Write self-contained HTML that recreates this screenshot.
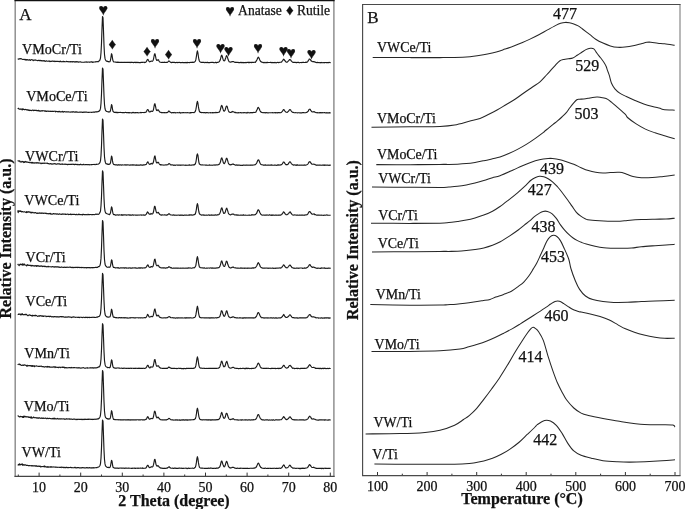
<!DOCTYPE html>
<html><head><meta charset="utf-8"><style>
html,body{margin:0;padding:0;background:#fff;}
svg{display:block;}
text{font-family:"Liberation Serif","Times New Roman",serif;fill:#111;stroke:#111;stroke-width:0.25px;}
.xrd{fill:none;stroke:#1a1a1a;stroke-width:1.15;stroke-linejoin:round;}
.tpr{fill:none;stroke:#262626;stroke-width:1.05;}
.lab{font-size:14.1px;}
.labb{font-size:13.9px;}
.num{font-size:16px;}
.mkh{font-size:16px;}
.mkd{font-size:15px;}
.leg{font-size:13.6px;}
.pl{font-size:17px;}
.tl{font-size:14px;}
.tlb{font-size:14px;}
.xt{font-size:16px;font-weight:bold;}
.yt{font-size:16px;font-weight:bold;}
.tk{stroke:#333;stroke-width:1;}
.fa{stroke:#888;stroke-width:1.4;}
.fb{stroke:#444;stroke-width:1.2;}
.ft{stroke:#111;stroke-width:1.6;}
.fbx{fill:none;stroke:#4a4a4a;stroke-width:1.15;}
.fbr{stroke:#9a9a9a;stroke-width:1.4;}
</style></head><body>
<svg width="685" height="509" viewBox="0 0 685 509">
<rect width="685" height="509" fill="#fff"/>
<path d="M17.7,59.1 L18.2,59.0 L18.7,59.1 L19.2,58.7 L19.7,59.0 L20.2,58.9 L20.7,58.6 L21.2,58.7 L21.7,58.9 L22.2,59.3 L22.7,59.5 L23.2,59.5 L23.7,59.4 L24.2,59.3 L24.7,59.7 L25.2,59.8 L25.7,59.4 L26.2,60.2 L26.7,59.6 L27.2,59.5 L27.7,60.0 L28.2,60.1 L28.7,60.0 L29.2,59.6 L29.7,59.9 L30.2,60.5 L30.7,60.0 L31.2,59.6 L31.7,59.7 L32.2,59.8 L32.7,60.1 L33.2,60.7 L33.7,60.1 L34.1,60.2 L34.6,60.2 L35.1,59.8 L35.6,60.2 L36.1,60.2 L36.6,60.2 L37.1,60.5 L37.6,60.6 L38.1,60.6 L38.6,60.3 L39.1,60.4 L39.6,60.7 L40.1,60.3 L40.6,60.6 L41.1,61.0 L41.6,60.5 L42.1,60.7 L42.6,61.0 L43.1,60.6 L43.6,60.9 L44.1,60.9 L44.6,60.7 L45.1,61.4 L45.6,61.2 L46.1,61.0 L46.6,60.9 L47.1,61.1 L47.6,61.2 L48.1,61.2 L48.6,61.1 L49.1,60.9 L49.6,61.4 L50.1,61.6 L50.6,61.2 L51.1,61.2 L51.6,61.4 L52.1,61.0 L52.6,61.0 L53.1,61.3 L53.6,61.3 L54.1,61.1 L54.6,61.4 L55.1,61.6 L55.6,61.3 L56.1,61.5 L56.6,61.3 L57.1,61.5 L57.6,61.4 L58.1,61.3 L58.6,61.5 L59.1,61.6 L59.6,61.7 L60.1,61.1 L60.6,61.3 L61.1,61.8 L61.6,61.7 L62.1,61.4 L62.6,61.7 L63.1,61.6 L63.6,61.4 L64.1,61.6 L64.6,61.6 L65.1,61.7 L65.6,61.7 L66.1,61.6 L66.6,61.4 L67.1,61.5 L67.6,61.7 L68.1,61.5 L68.6,61.7 L69.1,62.0 L69.6,61.8 L70.1,61.6 L70.6,61.9 L71.1,61.6 L71.6,61.8 L72.1,61.8 L72.6,62.0 L73.1,61.5 L73.6,61.8 L74.1,61.7 L74.6,61.9 L75.1,62.1 L75.6,61.7 L76.1,62.0 L76.6,61.6 L77.1,61.9 L77.6,61.7 L78.1,62.0 L78.6,62.2 L79.1,61.8 L79.6,62.0 L80.1,62.0 L80.6,61.8 L81.1,62.1 L81.6,62.2 L82.1,62.2 L82.6,62.2 L83.1,62.3 L83.6,62.2 L84.1,62.2 L84.6,62.1 L85.1,62.2 L85.6,62.0 L86.1,61.9 L86.6,62.1 L87.1,62.0 L87.6,62.2 L88.1,62.0 L88.6,62.0 L89.1,62.1 L89.6,62.3 L90.1,62.1 L90.6,62.0 L91.1,61.8 L91.6,62.1 L92.1,61.8 L92.6,62.4 L93.1,62.1 L93.6,62.1 L94.1,62.0 L94.6,62.0 L95.1,61.9 L95.6,61.7 L96.1,61.9 L96.5,61.6 L97.0,61.7 L97.5,61.6 L98.0,61.8 L98.5,61.3 L99.0,61.0 L99.5,60.8 L100.0,59.9 L100.5,58.0 L101.0,52.7 L101.5,43.1 L102.0,28.5 L102.5,16.5 L103.0,17.8 L103.5,31.0 L104.0,45.3 L104.5,54.5 L105.0,58.4 L105.5,60.0 L106.0,60.7 L106.5,61.1 L107.0,61.4 L107.5,61.2 L108.0,61.7 L108.5,61.6 L109.0,61.9 L109.5,61.8 L110.0,61.6 L110.5,60.1 L111.0,57.1 L111.5,53.7 L112.0,54.8 L112.5,58.3 L113.0,60.8 L113.5,61.7 L114.0,62.0 L114.5,62.0 L115.0,62.0 L115.5,62.1 L116.0,62.0 L116.5,62.3 L117.0,62.3 L117.5,62.5 L118.0,62.0 L118.5,62.4 L119.0,62.3 L119.5,62.3 L120.0,62.5 L120.5,62.4 L121.0,62.3 L121.5,62.4 L122.0,62.4 L122.5,62.4 L123.0,62.5 L123.5,62.4 L124.0,62.3 L124.5,62.3 L125.0,62.3 L125.5,62.4 L126.0,62.5 L126.5,62.3 L127.0,62.4 L127.5,62.3 L128.0,62.4 L128.5,62.4 L129.0,62.4 L129.5,62.3 L130.0,62.6 L130.5,62.4 L131.0,62.4 L131.5,62.2 L132.0,62.5 L132.5,62.4 L133.0,62.5 L133.5,62.7 L134.0,62.3 L134.5,62.4 L135.0,62.3 L135.5,62.6 L136.0,62.4 L136.5,62.4 L137.0,62.6 L137.5,62.4 L138.0,62.5 L138.5,62.4 L139.0,62.7 L139.5,62.6 L140.0,62.5 L140.5,62.6 L141.0,62.4 L141.5,62.3 L142.0,62.4 L142.5,62.4 L143.0,62.2 L143.5,62.3 L144.0,62.4 L144.5,62.6 L145.0,62.3 L145.5,62.3 L146.0,62.0 L146.5,61.3 L147.0,60.2 L147.5,59.5 L148.0,59.4 L148.5,60.5 L149.0,61.3 L149.5,61.8 L150.0,61.6 L150.5,61.5 L151.0,61.1 L151.5,61.1 L152.0,61.2 L152.5,61.3 L153.0,60.5 L153.5,59.2 L154.0,56.5 L154.5,54.1 L155.0,53.8 L155.5,56.0 L156.0,58.7 L156.5,60.0 L157.0,60.5 L157.5,60.1 L158.0,59.7 L158.5,59.8 L158.9,60.8 L159.4,61.7 L159.9,62.0 L160.4,62.2 L160.9,62.2 L161.4,62.4 L161.9,62.5 L162.4,62.3 L162.9,62.3 L163.4,62.5 L163.9,62.4 L164.4,62.4 L164.9,62.1 L165.4,62.5 L165.9,62.5 L166.4,62.4 L166.9,62.3 L167.4,62.3 L167.9,61.9 L168.4,61.4 L168.9,60.9 L169.4,61.2 L169.9,61.7 L170.4,62.1 L170.9,62.5 L171.4,62.6 L171.9,62.4 L172.4,62.5 L172.9,62.2 L173.4,62.4 L173.9,62.4 L174.4,62.3 L174.9,62.6 L175.4,62.6 L175.9,62.6 L176.4,62.5 L176.9,62.3 L177.4,62.6 L177.9,62.6 L178.4,62.5 L178.9,62.4 L179.4,62.5 L179.9,62.4 L180.4,62.7 L180.9,62.6 L181.4,62.6 L181.9,62.5 L182.4,62.4 L182.9,62.7 L183.4,62.5 L183.9,62.6 L184.4,62.5 L184.9,62.6 L185.4,62.7 L185.9,62.4 L186.4,62.5 L186.9,62.8 L187.4,62.4 L187.9,62.6 L188.4,62.5 L188.9,62.5 L189.4,62.7 L189.9,62.4 L190.4,62.5 L190.9,62.3 L191.4,62.4 L191.9,62.4 L192.4,62.4 L192.9,62.1 L193.4,62.4 L193.9,62.3 L194.4,62.2 L194.9,61.7 L195.4,61.0 L195.9,59.4 L196.4,56.4 L196.9,53.0 L197.4,50.8 L197.9,52.9 L198.4,56.5 L198.9,59.5 L199.4,61.0 L199.9,61.8 L200.4,62.1 L200.9,62.2 L201.4,62.4 L201.9,62.4 L202.4,62.3 L202.9,62.4 L203.4,62.4 L203.9,62.3 L204.4,62.6 L204.9,62.7 L205.4,62.5 L205.9,62.3 L206.4,62.5 L206.9,62.7 L207.4,62.3 L207.9,62.4 L208.4,62.7 L208.9,62.6 L209.4,62.5 L209.9,62.6 L210.4,62.5 L210.9,62.4 L211.4,62.5 L211.9,62.3 L212.4,62.5 L212.9,62.3 L213.4,62.6 L213.9,62.6 L214.4,62.7 L214.9,62.6 L215.4,62.4 L215.9,62.3 L216.4,62.8 L216.9,62.4 L217.4,62.5 L217.9,62.2 L218.4,62.2 L218.9,61.9 L219.4,61.3 L219.9,60.7 L220.4,59.3 L220.9,57.3 L221.3,55.6 L221.8,55.2 L222.3,56.5 L222.8,58.3 L223.3,60.0 L223.8,60.8 L224.3,60.9 L224.8,60.5 L225.3,59.0 L225.8,57.7 L226.3,55.9 L226.8,55.6 L227.3,56.9 L227.8,58.5 L228.3,60.1 L228.8,61.1 L229.3,61.8 L229.8,62.0 L230.3,62.2 L230.8,62.0 L231.3,61.8 L231.8,61.8 L232.3,61.6 L232.8,61.6 L233.3,61.5 L233.8,61.8 L234.3,62.0 L234.8,62.4 L235.3,62.2 L235.8,62.4 L236.3,62.3 L236.8,62.4 L237.3,62.5 L237.8,62.3 L238.3,62.4 L238.8,62.7 L239.3,62.5 L239.8,62.6 L240.3,62.6 L240.8,62.3 L241.3,62.7 L241.8,62.4 L242.3,62.7 L242.8,62.4 L243.3,62.6 L243.8,62.8 L244.3,62.5 L244.8,62.5 L245.3,62.7 L245.8,62.4 L246.3,62.7 L246.8,62.4 L247.3,62.5 L247.8,62.3 L248.3,62.6 L248.8,62.4 L249.3,62.6 L249.8,62.4 L250.3,62.5 L250.8,62.4 L251.3,62.6 L251.8,62.4 L252.3,62.4 L252.8,62.3 L253.3,62.5 L253.8,62.4 L254.3,62.3 L254.8,62.2 L255.3,62.4 L255.8,61.7 L256.3,60.9 L256.8,60.1 L257.3,59.1 L257.8,57.8 L258.3,57.2 L258.8,57.7 L259.3,58.6 L259.8,60.0 L260.3,60.9 L260.8,61.6 L261.3,61.8 L261.8,62.2 L262.3,62.2 L262.8,62.4 L263.3,62.6 L263.8,62.6 L264.3,62.4 L264.8,62.7 L265.3,62.7 L265.8,62.4 L266.3,62.6 L266.8,62.7 L267.3,62.3 L267.8,62.6 L268.3,62.5 L268.8,62.5 L269.3,62.5 L269.8,62.5 L270.3,62.4 L270.8,62.4 L271.3,62.7 L271.8,62.4 L272.3,62.6 L272.8,62.6 L273.3,62.5 L273.8,62.6 L274.3,62.7 L274.8,62.4 L275.3,62.6 L275.8,62.8 L276.3,62.9 L276.8,62.5 L277.3,62.5 L277.8,62.3 L278.3,62.6 L278.8,62.6 L279.3,62.5 L279.8,62.3 L280.3,62.2 L280.8,62.3 L281.3,62.2 L281.8,61.8 L282.3,61.0 L282.8,60.4 L283.3,59.6 L283.7,59.2 L284.2,59.6 L284.7,60.5 L285.2,61.0 L285.7,61.7 L286.2,62.1 L286.7,62.2 L287.2,62.1 L287.7,61.7 L288.2,61.2 L288.7,60.7 L289.2,60.0 L289.7,59.5 L290.2,59.7 L290.7,59.9 L291.2,60.9 L291.7,61.4 L292.2,61.8 L292.7,62.3 L293.2,62.4 L293.7,62.4 L294.2,62.4 L294.7,62.4 L295.2,62.5 L295.7,62.4 L296.2,62.6 L296.7,62.6 L297.2,62.4 L297.7,62.5 L298.2,62.4 L298.7,62.4 L299.2,62.7 L299.7,62.8 L300.2,62.5 L300.7,62.5 L301.2,62.5 L301.7,62.6 L302.2,62.4 L302.7,62.5 L303.2,62.4 L303.7,62.4 L304.2,62.5 L304.7,62.5 L305.2,62.5 L305.7,62.1 L306.2,62.5 L306.7,62.1 L307.2,62.1 L307.7,61.6 L308.2,60.7 L308.7,60.1 L309.2,59.1 L309.7,59.0 L310.2,59.2 L310.7,60.1 L311.2,60.9 L311.7,61.1 L312.2,61.5 L312.7,61.7 L313.2,61.5 L313.7,61.8 L314.2,61.6 L314.7,62.0 L315.2,62.3 L315.7,62.1 L316.2,62.5 L316.7,62.6 L317.2,62.6 L317.7,62.4 L318.2,62.5 L318.7,62.6 L319.2,62.7 L319.7,62.6 L320.2,62.5 L320.7,62.8 L321.2,62.4 L321.7,62.7 L322.2,62.6 L322.7,62.7 L323.2,62.7 L323.7,62.5 L324.2,62.6 L324.7,62.8 L325.2,62.5 L325.7,62.5 L326.2,62.6 L326.7,62.5 L327.2,62.7 L327.7,62.5 L328.2,62.6 L328.7,62.6 L329.2,62.4 L329.7,62.5 L330.2,62.6 L330.7,62.5" class="xrd"/>
<text x="22.1" y="54.1" class="lab">VMoCr/Ti</text>
<path d="M17.7,108.8 L18.2,108.3 L18.7,108.4 L19.2,109.2 L19.7,109.2 L20.2,109.3 L20.7,108.9 L21.2,109.2 L21.7,109.0 L22.2,110.0 L22.7,108.8 L23.2,109.5 L23.7,109.2 L24.2,109.6 L24.7,109.7 L25.2,109.5 L25.7,109.4 L26.2,109.8 L26.7,109.8 L27.2,109.6 L27.7,110.1 L28.2,110.4 L28.7,109.8 L29.2,110.2 L29.7,110.6 L30.2,110.3 L30.7,110.3 L31.2,110.5 L31.7,110.6 L32.2,110.2 L32.7,110.0 L33.2,110.4 L33.7,110.6 L34.1,110.3 L34.6,110.2 L35.1,110.5 L35.6,110.3 L36.1,110.2 L36.6,110.6 L37.1,110.8 L37.6,110.5 L38.1,110.6 L38.6,110.4 L39.1,111.1 L39.6,110.9 L40.1,111.0 L40.6,111.2 L41.1,110.8 L41.6,110.7 L42.1,111.1 L42.6,110.6 L43.1,110.7 L43.6,110.8 L44.1,110.9 L44.6,110.8 L45.1,111.4 L45.6,110.9 L46.1,111.0 L46.6,111.5 L47.1,111.1 L47.6,111.2 L48.1,111.0 L48.6,111.3 L49.1,111.3 L49.6,111.2 L50.1,111.5 L50.6,111.2 L51.1,111.4 L51.6,111.3 L52.1,111.5 L52.6,111.2 L53.1,111.3 L53.6,111.5 L54.1,111.3 L54.6,111.2 L55.1,111.1 L55.6,111.8 L56.1,111.4 L56.6,111.5 L57.1,111.6 L57.6,111.8 L58.1,111.4 L58.6,111.9 L59.1,111.5 L59.6,111.4 L60.1,112.0 L60.6,111.8 L61.1,112.0 L61.6,111.7 L62.1,111.5 L62.6,111.4 L63.1,112.1 L63.6,111.9 L64.1,111.7 L64.6,111.5 L65.1,111.8 L65.6,112.0 L66.1,111.8 L66.6,111.9 L67.1,111.9 L67.6,112.0 L68.1,111.8 L68.6,111.9 L69.1,112.0 L69.6,112.0 L70.1,112.2 L70.6,112.1 L71.1,111.8 L71.6,112.0 L72.1,112.2 L72.6,111.8 L73.1,111.9 L73.6,111.7 L74.1,112.0 L74.6,112.1 L75.1,112.3 L75.6,111.9 L76.1,111.7 L76.6,112.2 L77.1,112.2 L77.6,112.0 L78.1,112.3 L78.6,112.2 L79.1,112.2 L79.6,112.1 L80.1,112.0 L80.6,112.2 L81.1,112.0 L81.6,112.2 L82.1,112.1 L82.6,112.5 L83.1,112.4 L83.6,112.1 L84.1,112.3 L84.6,112.1 L85.1,112.1 L85.6,112.0 L86.1,112.1 L86.6,112.1 L87.1,112.2 L87.6,112.3 L88.1,112.3 L88.6,112.3 L89.1,112.4 L89.6,112.3 L90.1,112.2 L90.6,112.2 L91.1,112.3 L91.6,112.5 L92.1,112.2 L92.6,112.2 L93.1,112.0 L93.6,112.1 L94.1,112.3 L94.6,112.2 L95.1,111.8 L95.6,112.0 L96.1,111.8 L96.5,111.7 L97.0,112.0 L97.5,111.8 L98.0,111.6 L98.5,111.4 L99.0,111.2 L99.5,110.8 L100.0,110.1 L100.5,108.4 L101.0,103.5 L101.5,94.0 L102.0,79.8 L102.5,68.1 L103.0,69.2 L103.5,82.2 L104.0,95.8 L104.5,104.5 L105.0,108.7 L105.5,110.4 L106.0,111.0 L106.5,111.4 L107.0,111.5 L107.5,111.7 L108.0,111.8 L108.5,112.1 L109.0,111.8 L109.5,112.0 L110.0,111.7 L110.5,110.5 L111.0,107.8 L111.5,104.6 L112.0,105.6 L112.5,109.1 L113.0,111.3 L113.5,111.8 L114.0,112.2 L114.5,112.4 L115.0,112.3 L115.5,112.6 L116.0,112.2 L116.5,112.6 L117.0,112.4 L117.5,112.4 L118.0,112.7 L118.5,112.5 L119.0,112.4 L119.5,112.5 L120.0,112.5 L120.5,112.4 L121.0,112.5 L121.5,112.5 L122.0,112.6 L122.5,112.5 L123.0,112.7 L123.5,112.5 L124.0,112.6 L124.5,112.7 L125.0,112.5 L125.5,112.4 L126.0,112.5 L126.5,112.7 L127.0,112.5 L127.5,112.7 L128.0,112.6 L128.5,112.6 L129.0,112.9 L129.5,112.6 L130.0,112.8 L130.5,112.7 L131.0,112.8 L131.5,112.8 L132.0,112.8 L132.5,112.5 L133.0,112.4 L133.5,112.6 L134.0,112.5 L134.5,112.7 L135.0,112.9 L135.5,112.6 L136.0,112.6 L136.5,112.7 L137.0,112.6 L137.5,112.6 L138.0,112.8 L138.5,112.8 L139.0,112.7 L139.5,112.7 L140.0,112.7 L140.5,112.5 L141.0,112.4 L141.5,112.7 L142.0,112.5 L142.5,112.5 L143.0,112.5 L143.5,112.5 L144.0,112.6 L144.5,112.5 L145.0,112.3 L145.5,112.3 L146.0,112.2 L146.5,111.5 L147.0,110.3 L147.5,109.5 L148.0,109.7 L148.5,110.4 L149.0,111.7 L149.5,111.9 L150.0,111.9 L150.5,111.7 L151.0,111.1 L151.5,111.1 L152.0,111.5 L152.5,111.4 L153.0,110.9 L153.5,109.5 L154.0,106.7 L154.5,104.1 L155.0,103.8 L155.5,106.1 L156.0,108.7 L156.5,110.2 L157.0,110.6 L157.5,110.1 L158.0,109.9 L158.5,110.1 L158.9,110.8 L159.4,111.7 L159.9,112.2 L160.4,112.2 L160.9,112.4 L161.4,112.6 L161.9,112.5 L162.4,112.7 L162.9,112.6 L163.4,112.7 L163.9,112.6 L164.4,112.8 L164.9,112.5 L165.4,112.7 L165.9,112.8 L166.4,112.6 L166.9,112.6 L167.4,112.4 L167.9,112.2 L168.4,111.6 L168.9,110.9 L169.4,111.6 L169.9,111.8 L170.4,112.3 L170.9,112.5 L171.4,112.8 L171.9,112.8 L172.4,112.6 L172.9,112.7 L173.4,112.5 L173.9,112.8 L174.4,112.7 L174.9,112.4 L175.4,112.8 L175.9,112.8 L176.4,112.7 L176.9,112.7 L177.4,112.6 L177.9,112.7 L178.4,112.8 L178.9,112.7 L179.4,112.4 L179.9,112.6 L180.4,113.1 L180.9,112.8 L181.4,112.8 L181.9,112.7 L182.4,112.8 L182.9,112.5 L183.4,112.6 L183.9,112.6 L184.4,112.7 L184.9,112.7 L185.4,112.7 L185.9,112.6 L186.4,112.7 L186.9,112.8 L187.4,112.6 L187.9,112.7 L188.4,112.7 L188.9,112.8 L189.4,112.8 L189.9,112.8 L190.4,113.0 L190.9,112.5 L191.4,112.6 L191.9,112.6 L192.4,112.5 L192.9,112.5 L193.4,112.5 L193.9,112.7 L194.4,112.3 L194.9,112.0 L195.4,111.1 L195.9,109.4 L196.4,106.5 L196.9,103.2 L197.4,101.4 L197.9,103.0 L198.4,106.7 L198.9,109.5 L199.4,111.3 L199.9,112.0 L200.4,112.5 L200.9,112.4 L201.4,112.6 L201.9,112.5 L202.4,112.5 L202.9,112.6 L203.4,112.6 L203.9,112.7 L204.4,112.6 L204.9,112.6 L205.4,112.8 L205.9,112.8 L206.4,112.5 L206.9,112.7 L207.4,112.6 L207.9,112.7 L208.4,112.8 L208.9,112.8 L209.4,112.7 L209.9,112.7 L210.4,112.6 L210.9,112.9 L211.4,112.8 L211.9,112.7 L212.4,112.5 L212.9,113.0 L213.4,112.6 L213.9,112.7 L214.4,112.6 L214.9,112.7 L215.4,112.6 L215.9,112.4 L216.4,112.6 L216.9,112.5 L217.4,112.5 L217.9,112.6 L218.4,112.3 L218.9,112.2 L219.4,111.9 L219.9,110.9 L220.4,109.5 L220.9,107.5 L221.3,105.9 L221.8,105.4 L222.3,106.4 L222.8,108.3 L223.3,109.9 L223.8,110.9 L224.3,111.2 L224.8,110.7 L225.3,109.5 L225.8,107.6 L226.3,106.2 L226.8,106.0 L227.3,106.9 L227.8,108.9 L228.3,110.4 L228.8,111.6 L229.3,112.2 L229.8,112.3 L230.3,112.4 L230.8,112.5 L231.3,112.2 L231.8,111.8 L232.3,112.0 L232.8,111.4 L233.3,111.8 L233.8,112.0 L234.3,112.3 L234.8,112.6 L235.3,112.4 L235.8,112.6 L236.3,112.8 L236.8,112.7 L237.3,112.9 L237.8,112.8 L238.3,112.6 L238.8,112.9 L239.3,112.8 L239.8,112.7 L240.3,112.6 L240.8,112.6 L241.3,112.8 L241.8,112.8 L242.3,112.7 L242.8,112.8 L243.3,112.8 L243.8,112.6 L244.3,112.5 L244.8,112.7 L245.3,112.8 L245.8,112.7 L246.3,113.0 L246.8,112.7 L247.3,112.9 L247.8,112.4 L248.3,112.6 L248.8,112.7 L249.3,112.8 L249.8,113.0 L250.3,112.6 L250.8,112.5 L251.3,112.8 L251.8,112.6 L252.3,112.6 L252.8,112.8 L253.3,112.5 L253.8,112.4 L254.3,112.5 L254.8,112.5 L255.3,112.2 L255.8,112.1 L256.3,111.2 L256.8,110.1 L257.3,109.2 L257.8,107.8 L258.3,107.4 L258.8,108.0 L259.3,108.9 L259.8,110.2 L260.3,111.1 L260.8,111.9 L261.3,112.1 L261.8,112.5 L262.3,112.5 L262.8,112.7 L263.3,112.7 L263.8,112.5 L264.3,112.6 L264.8,112.7 L265.3,112.9 L265.8,112.6 L266.3,112.6 L266.8,112.8 L267.3,112.7 L267.8,112.9 L268.3,112.9 L268.8,112.8 L269.3,112.7 L269.8,112.7 L270.3,112.8 L270.8,112.7 L271.3,112.7 L271.8,112.7 L272.3,112.6 L272.8,112.8 L273.3,112.8 L273.8,112.7 L274.3,112.7 L274.8,112.6 L275.3,112.9 L275.8,112.6 L276.3,112.8 L276.8,112.7 L277.3,112.9 L277.8,112.6 L278.3,112.6 L278.8,112.6 L279.3,112.6 L279.8,112.8 L280.3,112.7 L280.8,112.6 L281.3,112.5 L281.8,111.9 L282.3,111.4 L282.8,110.6 L283.3,109.7 L283.7,109.5 L284.2,110.0 L284.7,110.8 L285.2,111.4 L285.7,112.0 L286.2,112.2 L286.7,112.2 L287.2,112.4 L287.7,112.0 L288.2,111.4 L288.7,111.0 L289.2,110.2 L289.7,109.6 L290.2,109.6 L290.7,110.1 L291.2,111.0 L291.7,111.6 L292.2,112.0 L292.7,112.4 L293.2,112.5 L293.7,112.4 L294.2,112.7 L294.7,112.7 L295.2,112.7 L295.7,112.6 L296.2,112.7 L296.7,112.7 L297.2,112.7 L297.7,112.9 L298.2,112.8 L298.7,112.7 L299.2,112.8 L299.7,112.9 L300.2,112.9 L300.7,112.8 L301.2,112.8 L301.7,112.9 L302.2,112.7 L302.7,112.5 L303.2,112.7 L303.7,112.5 L304.2,112.7 L304.7,112.8 L305.2,112.7 L305.7,112.7 L306.2,112.5 L306.7,112.5 L307.2,112.0 L307.7,111.6 L308.2,111.3 L308.7,110.1 L309.2,109.3 L309.7,109.2 L310.2,109.3 L310.7,110.4 L311.2,110.9 L311.7,111.7 L312.2,111.7 L312.7,112.0 L313.2,112.0 L313.7,111.6 L314.2,111.5 L314.7,112.2 L315.2,112.2 L315.7,112.5 L316.2,112.7 L316.7,112.6 L317.2,112.5 L317.7,112.9 L318.2,112.7 L318.7,112.7 L319.2,112.9 L319.7,112.6 L320.2,112.5 L320.7,112.9 L321.2,112.6 L321.7,112.8 L322.2,112.8 L322.7,112.6 L323.2,112.7 L323.7,112.7 L324.2,112.6 L324.7,112.6 L325.2,112.7 L325.7,112.9 L326.2,113.0 L326.7,112.6 L327.2,112.9 L327.7,112.8 L328.2,112.9 L328.7,112.8 L329.2,112.9 L329.7,112.6 L330.2,112.9 L330.7,112.8" class="xrd"/>
<text x="26.2" y="101.4" class="lab">VMoCe/Ti</text>
<path d="M17.7,161.2 L18.2,160.8 L18.7,161.0 L19.2,161.1 L19.7,160.8 L20.2,162.0 L20.7,161.8 L21.2,162.1 L21.7,161.7 L22.2,161.3 L22.7,161.8 L23.2,161.6 L23.7,162.6 L24.2,161.9 L24.7,162.3 L25.2,161.4 L25.7,161.8 L26.2,161.8 L26.7,162.2 L27.2,162.0 L27.7,162.0 L28.2,162.4 L28.7,162.5 L29.2,162.4 L29.7,162.6 L30.2,162.7 L30.7,162.6 L31.2,162.8 L31.7,162.3 L32.2,163.1 L32.7,162.4 L33.2,162.9 L33.7,162.9 L34.1,163.2 L34.6,162.8 L35.1,162.9 L35.6,162.8 L36.1,163.1 L36.6,162.9 L37.1,162.5 L37.6,162.9 L38.1,163.2 L38.6,162.8 L39.1,163.1 L39.6,163.0 L40.1,163.0 L40.6,163.3 L41.1,163.7 L41.6,163.3 L42.1,163.1 L42.6,163.4 L43.1,163.2 L43.6,163.1 L44.1,163.5 L44.6,163.1 L45.1,163.1 L45.6,163.2 L46.1,163.2 L46.6,163.3 L47.1,163.0 L47.6,163.5 L48.1,163.6 L48.6,163.5 L49.1,163.9 L49.6,164.0 L50.1,163.9 L50.6,163.6 L51.1,163.6 L51.6,164.1 L52.1,164.2 L52.6,163.9 L53.1,163.9 L53.6,163.9 L54.1,163.7 L54.6,163.6 L55.1,163.9 L55.6,163.8 L56.1,164.2 L56.6,164.2 L57.1,163.9 L57.6,163.9 L58.1,163.9 L58.6,163.9 L59.1,163.9 L59.6,163.9 L60.1,164.4 L60.6,164.2 L61.1,164.0 L61.6,164.0 L62.1,164.4 L62.6,163.9 L63.1,164.3 L63.6,164.2 L64.1,164.2 L64.6,164.1 L65.1,164.5 L65.6,164.1 L66.1,164.2 L66.6,164.4 L67.1,164.3 L67.6,164.7 L68.1,164.4 L68.6,164.3 L69.1,164.5 L69.6,164.4 L70.1,164.4 L70.6,164.4 L71.1,164.2 L71.6,164.4 L72.1,164.4 L72.6,164.3 L73.1,164.1 L73.6,164.5 L74.1,164.4 L74.6,164.7 L75.1,164.2 L75.6,164.4 L76.1,164.3 L76.6,164.5 L77.1,164.7 L77.6,164.4 L78.1,164.4 L78.6,164.7 L79.1,164.8 L79.6,164.5 L80.1,164.6 L80.6,164.2 L81.1,164.7 L81.6,164.7 L82.1,164.6 L82.6,164.8 L83.1,164.7 L83.6,164.3 L84.1,164.6 L84.6,164.7 L85.1,164.8 L85.6,164.5 L86.1,164.5 L86.6,164.6 L87.1,164.7 L87.6,164.6 L88.1,164.6 L88.6,164.7 L89.1,164.5 L89.6,164.9 L90.1,164.8 L90.6,164.7 L91.1,164.6 L91.6,164.8 L92.1,164.6 L92.6,164.5 L93.1,164.5 L93.6,164.5 L94.1,164.4 L94.6,164.5 L95.1,164.7 L95.6,164.5 L96.1,164.2 L96.5,164.5 L97.0,164.3 L97.5,164.2 L98.0,164.2 L98.5,164.0 L99.0,163.6 L99.5,163.2 L100.0,162.4 L100.5,160.7 L101.0,155.6 L101.5,145.7 L102.0,131.1 L102.5,119.0 L103.0,120.3 L103.5,133.6 L104.0,147.6 L104.5,156.8 L105.0,161.0 L105.5,162.7 L106.0,163.7 L106.5,163.9 L107.0,163.7 L107.5,164.2 L108.0,164.5 L108.5,164.4 L109.0,164.1 L109.5,164.3 L110.0,163.9 L110.5,162.8 L111.0,159.6 L111.5,156.0 L112.0,157.0 L112.5,160.9 L113.0,163.3 L113.5,164.2 L114.0,164.6 L114.5,164.6 L115.0,164.7 L115.5,164.9 L116.0,164.7 L116.5,164.9 L117.0,164.9 L117.5,165.1 L118.0,165.0 L118.5,164.7 L119.0,165.1 L119.5,164.9 L120.0,165.0 L120.5,164.9 L121.0,164.9 L121.5,165.1 L122.0,165.0 L122.5,164.9 L123.0,165.0 L123.5,165.0 L124.0,165.0 L124.5,164.9 L125.0,164.8 L125.5,164.9 L126.0,165.1 L126.5,164.9 L127.0,165.0 L127.5,164.9 L128.0,164.8 L128.5,165.0 L129.0,165.0 L129.5,165.1 L130.0,165.1 L130.5,165.1 L131.0,164.8 L131.5,165.0 L132.0,165.1 L132.5,164.8 L133.0,165.2 L133.5,164.9 L134.0,164.9 L134.5,165.0 L135.0,165.1 L135.5,165.1 L136.0,165.1 L136.5,164.9 L137.0,165.3 L137.5,165.1 L138.0,165.0 L138.5,165.1 L139.0,165.3 L139.5,165.1 L140.0,165.1 L140.5,164.9 L141.0,164.9 L141.5,165.0 L142.0,165.3 L142.5,165.0 L143.0,165.1 L143.5,164.9 L144.0,164.8 L144.5,164.9 L145.0,164.7 L145.5,164.6 L146.0,164.5 L146.5,164.1 L147.0,162.9 L147.5,162.1 L148.0,161.9 L148.5,163.0 L149.0,163.8 L149.5,164.3 L150.0,164.5 L150.5,163.9 L151.0,163.5 L151.5,163.4 L152.0,163.9 L152.5,163.9 L153.0,163.2 L153.5,161.8 L154.0,159.2 L154.5,156.6 L155.0,155.9 L155.5,158.6 L156.0,161.2 L156.5,162.7 L157.0,163.0 L157.5,162.5 L158.0,162.2 L158.5,162.5 L158.9,163.3 L159.4,164.0 L159.9,164.6 L160.4,164.9 L160.9,164.6 L161.4,165.0 L161.9,164.8 L162.4,165.0 L162.9,165.0 L163.4,165.0 L163.9,165.2 L164.4,165.0 L164.9,165.0 L165.4,164.9 L165.9,165.0 L166.4,164.9 L166.9,164.9 L167.4,164.8 L167.9,164.7 L168.4,164.1 L168.9,163.5 L169.4,163.8 L169.9,164.1 L170.4,164.7 L170.9,165.0 L171.4,164.8 L171.9,165.0 L172.4,164.9 L172.9,165.0 L173.4,165.1 L173.9,165.4 L174.4,165.1 L174.9,165.3 L175.4,165.4 L175.9,165.0 L176.4,165.0 L176.9,165.0 L177.4,165.1 L177.9,165.1 L178.4,165.1 L178.9,165.1 L179.4,165.1 L179.9,165.0 L180.4,165.4 L180.9,165.0 L181.4,165.2 L181.9,165.0 L182.4,165.0 L182.9,165.2 L183.4,165.0 L183.9,165.0 L184.4,165.2 L184.9,165.2 L185.4,165.1 L185.9,165.4 L186.4,165.2 L186.9,165.1 L187.4,165.2 L187.9,165.3 L188.4,165.2 L188.9,164.9 L189.4,164.9 L189.9,165.1 L190.4,165.2 L190.9,165.1 L191.4,165.0 L191.9,165.1 L192.4,165.0 L192.9,164.9 L193.4,164.8 L193.9,165.1 L194.4,164.6 L194.9,164.4 L195.4,163.6 L195.9,162.1 L196.4,159.0 L196.9,155.2 L197.4,153.9 L197.9,155.2 L198.4,159.0 L198.9,162.3 L199.4,164.0 L199.9,164.4 L200.4,164.8 L200.9,164.7 L201.4,164.9 L201.9,165.0 L202.4,164.9 L202.9,165.0 L203.4,165.0 L203.9,165.0 L204.4,165.0 L204.9,165.0 L205.4,165.0 L205.9,165.3 L206.4,165.1 L206.9,165.1 L207.4,165.2 L207.9,165.3 L208.4,165.2 L208.9,165.1 L209.4,165.1 L209.9,164.9 L210.4,165.2 L210.9,165.2 L211.4,165.2 L211.9,165.1 L212.4,165.2 L212.9,165.3 L213.4,165.0 L213.9,165.0 L214.4,164.9 L214.9,165.2 L215.4,165.1 L215.9,164.8 L216.4,165.0 L216.9,164.9 L217.4,165.0 L217.9,164.8 L218.4,164.7 L218.9,164.3 L219.4,164.1 L219.9,163.3 L220.4,162.0 L220.9,160.0 L221.3,158.3 L221.8,157.8 L222.3,159.1 L222.8,160.7 L223.3,162.6 L223.8,163.3 L224.3,163.7 L224.8,163.0 L225.3,161.7 L225.8,160.2 L226.3,158.5 L226.8,158.2 L227.3,159.3 L227.8,161.1 L228.3,162.9 L228.8,163.9 L229.3,164.5 L229.8,164.8 L230.3,164.9 L230.8,164.6 L231.3,164.7 L231.8,164.4 L232.3,164.1 L232.8,164.2 L233.3,164.0 L233.8,164.5 L234.3,164.6 L234.8,164.7 L235.3,165.1 L235.8,165.2 L236.3,165.2 L236.8,164.8 L237.3,165.1 L237.8,165.3 L238.3,165.0 L238.8,165.1 L239.3,165.1 L239.8,165.3 L240.3,165.4 L240.8,165.2 L241.3,165.3 L241.8,165.3 L242.3,165.3 L242.8,165.3 L243.3,165.0 L243.8,165.1 L244.3,165.1 L244.8,165.2 L245.3,165.3 L245.8,165.1 L246.3,165.1 L246.8,165.0 L247.3,165.1 L247.8,165.2 L248.3,165.1 L248.8,165.2 L249.3,165.2 L249.8,165.0 L250.3,165.3 L250.8,165.1 L251.3,165.0 L251.8,165.1 L252.3,165.0 L252.8,165.2 L253.3,165.0 L253.8,165.0 L254.3,164.9 L254.8,164.8 L255.3,164.7 L255.8,164.1 L256.3,163.6 L256.8,162.7 L257.3,161.5 L257.8,160.3 L258.3,159.9 L258.8,160.0 L259.3,161.2 L259.8,162.5 L260.3,163.6 L260.8,164.3 L261.3,164.6 L261.8,164.7 L262.3,164.8 L262.8,165.0 L263.3,165.0 L263.8,165.3 L264.3,165.0 L264.8,165.1 L265.3,164.9 L265.8,165.1 L266.3,165.2 L266.8,165.1 L267.3,165.2 L267.8,165.0 L268.3,165.1 L268.8,165.1 L269.3,165.1 L269.8,165.2 L270.3,165.1 L270.8,165.1 L271.3,164.9 L271.8,165.1 L272.3,165.1 L272.8,165.2 L273.3,165.2 L273.8,165.2 L274.3,165.0 L274.8,165.1 L275.3,165.0 L275.8,165.2 L276.3,165.2 L276.8,165.4 L277.3,165.0 L277.8,164.9 L278.3,165.1 L278.8,164.9 L279.3,165.0 L279.8,165.1 L280.3,164.9 L280.8,165.0 L281.3,164.8 L281.8,164.3 L282.3,163.8 L282.8,163.1 L283.3,162.0 L283.7,162.0 L284.2,162.3 L284.7,163.1 L285.2,163.9 L285.7,164.5 L286.2,164.9 L286.7,164.5 L287.2,164.7 L287.7,164.4 L288.2,164.1 L288.7,163.2 L289.2,162.4 L289.7,161.9 L290.2,161.8 L290.7,162.5 L291.2,163.3 L291.7,164.0 L292.2,164.3 L292.7,164.8 L293.2,164.9 L293.7,165.1 L294.2,165.0 L294.7,164.8 L295.2,165.1 L295.7,165.0 L296.2,165.4 L296.7,164.9 L297.2,165.1 L297.7,164.9 L298.2,165.1 L298.7,165.2 L299.2,165.3 L299.7,165.1 L300.2,165.1 L300.7,165.2 L301.2,165.1 L301.7,165.2 L302.2,165.0 L302.7,165.2 L303.2,165.3 L303.7,165.1 L304.2,165.2 L304.7,164.9 L305.2,165.1 L305.7,165.2 L306.2,165.0 L306.7,164.8 L307.2,164.5 L307.7,164.1 L308.2,163.6 L308.7,162.6 L309.2,161.9 L309.7,161.7 L310.2,161.9 L310.7,162.6 L311.2,163.5 L311.7,164.0 L312.2,164.2 L312.7,164.2 L313.2,164.0 L313.7,164.2 L314.2,164.2 L314.7,164.4 L315.2,164.6 L315.7,165.0 L316.2,165.1 L316.7,165.3 L317.2,165.0 L317.7,165.0 L318.2,165.2 L318.7,165.1 L319.2,165.1 L319.7,165.0 L320.2,165.2 L320.7,165.1 L321.2,165.2 L321.7,165.3 L322.2,165.1 L322.7,165.1 L323.2,165.3 L323.7,165.1 L324.2,164.9 L324.7,165.4 L325.2,165.1 L325.7,165.1 L326.2,165.2 L326.7,165.1 L327.2,165.2 L327.7,165.0 L328.2,165.3 L328.7,165.2 L329.2,165.4 L329.7,165.1 L330.2,165.1 L330.7,165.4" class="xrd"/>
<text x="25.0" y="160.6" class="lab">VWCr/Ti</text>
<path d="M17.7,210.4 L18.2,212.6 L18.7,210.9 L19.2,211.4 L19.7,210.9 L20.2,211.4 L20.7,210.8 L21.2,211.6 L21.7,211.9 L22.2,211.5 L22.7,211.6 L23.2,212.0 L23.7,212.0 L24.2,211.7 L24.7,211.7 L25.2,212.2 L25.7,212.2 L26.2,212.7 L26.7,211.6 L27.2,212.3 L27.7,211.8 L28.2,212.2 L28.7,211.7 L29.2,211.9 L29.7,212.3 L30.2,212.0 L30.7,212.8 L31.2,212.2 L31.7,213.0 L32.2,212.5 L32.7,212.3 L33.2,212.6 L33.7,212.8 L34.1,213.0 L34.6,212.9 L35.1,212.5 L35.6,212.6 L36.1,213.0 L36.6,213.3 L37.1,212.8 L37.6,213.4 L38.1,213.2 L38.6,213.3 L39.1,212.9 L39.6,213.1 L40.1,213.0 L40.6,213.1 L41.1,213.4 L41.6,213.1 L42.1,212.9 L42.6,213.3 L43.1,213.2 L43.6,213.4 L44.1,213.1 L44.6,213.3 L45.1,213.2 L45.6,213.4 L46.1,213.1 L46.6,213.6 L47.1,213.6 L47.6,213.7 L48.1,213.5 L48.6,213.8 L49.1,213.8 L49.6,213.5 L50.1,213.4 L50.6,213.6 L51.1,214.3 L51.6,214.0 L52.1,214.0 L52.6,214.1 L53.1,213.9 L53.6,213.5 L54.1,213.9 L54.6,214.0 L55.1,213.8 L55.6,213.9 L56.1,213.9 L56.6,214.1 L57.1,214.0 L57.6,213.9 L58.1,214.4 L58.6,214.3 L59.1,213.8 L59.6,213.9 L60.1,214.2 L60.6,214.3 L61.1,214.1 L61.6,214.4 L62.1,214.2 L62.6,213.9 L63.1,214.1 L63.6,214.0 L64.1,214.2 L64.6,214.1 L65.1,214.0 L65.6,214.5 L66.1,214.3 L66.6,214.3 L67.1,214.2 L67.6,214.0 L68.1,214.2 L68.6,214.6 L69.1,214.4 L69.6,214.5 L70.1,214.5 L70.6,214.0 L71.1,214.6 L71.6,214.4 L72.1,214.5 L72.6,214.3 L73.1,214.4 L73.6,214.4 L74.1,214.5 L74.6,214.3 L75.1,214.6 L75.6,214.6 L76.1,214.7 L76.6,214.3 L77.1,214.6 L77.6,214.7 L78.1,214.6 L78.6,214.1 L79.1,214.6 L79.6,214.4 L80.1,214.5 L80.6,214.6 L81.1,214.7 L81.6,214.6 L82.1,214.6 L82.6,214.9 L83.1,214.2 L83.6,214.5 L84.1,214.6 L84.6,214.6 L85.1,214.7 L85.6,214.5 L86.1,214.7 L86.6,214.6 L87.1,214.8 L87.6,214.6 L88.1,214.3 L88.6,214.7 L89.1,214.5 L89.6,214.6 L90.1,214.5 L90.6,214.5 L91.1,214.6 L91.6,214.7 L92.1,214.6 L92.6,214.6 L93.1,214.7 L93.6,214.5 L94.1,214.5 L94.6,214.7 L95.1,214.5 L95.6,214.1 L96.1,214.3 L96.5,214.4 L97.0,214.0 L97.5,214.3 L98.0,214.4 L98.5,214.2 L99.0,213.9 L99.5,213.3 L100.0,212.4 L100.5,211.0 L101.0,205.8 L101.5,196.6 L102.0,182.5 L102.5,170.8 L103.0,172.1 L103.5,185.0 L104.0,198.4 L104.5,207.2 L105.0,211.1 L105.5,212.6 L106.0,213.3 L106.5,213.4 L107.0,213.8 L107.5,214.0 L108.0,214.0 L108.5,214.3 L109.0,214.5 L109.5,214.6 L110.0,213.9 L110.5,212.8 L111.0,209.9 L111.5,206.9 L112.0,207.7 L112.5,211.0 L113.0,213.5 L113.5,214.5 L114.0,214.7 L114.5,214.5 L115.0,214.9 L115.5,215.1 L116.0,215.1 L116.5,215.0 L117.0,214.8 L117.5,214.9 L118.0,215.0 L118.5,215.1 L119.0,214.9 L119.5,214.9 L120.0,215.0 L120.5,215.0 L121.0,215.0 L121.5,214.7 L122.0,215.3 L122.5,214.9 L123.0,215.1 L123.5,214.9 L124.0,215.0 L124.5,214.9 L125.0,214.9 L125.5,215.0 L126.0,214.9 L126.5,215.2 L127.0,214.9 L127.5,215.0 L128.0,215.0 L128.5,214.8 L129.0,214.9 L129.5,214.8 L130.0,215.3 L130.5,215.1 L131.0,214.9 L131.5,215.2 L132.0,215.1 L132.5,214.8 L133.0,214.9 L133.5,215.2 L134.0,215.0 L134.5,215.0 L135.0,215.0 L135.5,215.1 L136.0,215.0 L136.5,215.2 L137.0,215.0 L137.5,215.2 L138.0,215.0 L138.5,215.0 L139.0,215.2 L139.5,215.0 L140.0,215.0 L140.5,215.0 L141.0,214.9 L141.5,215.1 L142.0,215.1 L142.5,215.0 L143.0,215.0 L143.5,214.9 L144.0,215.3 L144.5,215.0 L145.0,215.2 L145.5,214.9 L146.0,214.5 L146.5,213.9 L147.0,212.8 L147.5,211.9 L148.0,212.4 L148.5,213.2 L149.0,213.8 L149.5,214.2 L150.0,214.3 L150.5,214.2 L151.0,213.4 L151.5,213.9 L152.0,213.8 L152.5,213.9 L153.0,213.3 L153.5,211.8 L154.0,209.1 L154.5,206.4 L155.0,206.3 L155.5,208.7 L156.0,211.1 L156.5,212.6 L157.0,213.0 L157.5,212.8 L158.0,212.3 L158.5,212.6 L158.9,213.4 L159.4,214.0 L159.9,214.5 L160.4,214.8 L160.9,215.1 L161.4,215.1 L161.9,214.9 L162.4,214.9 L162.9,215.0 L163.4,215.0 L163.9,215.0 L164.4,214.9 L164.9,214.8 L165.4,215.0 L165.9,215.1 L166.4,215.0 L166.9,215.2 L167.4,214.8 L167.9,214.6 L168.4,214.1 L168.9,213.7 L169.4,213.8 L169.9,214.4 L170.4,214.7 L170.9,215.0 L171.4,215.0 L171.9,215.0 L172.4,215.2 L172.9,215.0 L173.4,214.9 L173.9,215.1 L174.4,215.0 L174.9,215.3 L175.4,215.2 L175.9,215.0 L176.4,215.3 L176.9,215.2 L177.4,215.2 L177.9,215.0 L178.4,215.0 L178.9,215.2 L179.4,215.1 L179.9,215.5 L180.4,215.0 L180.9,215.1 L181.4,215.0 L181.9,215.4 L182.4,215.1 L182.9,215.2 L183.4,215.4 L183.9,215.2 L184.4,215.1 L184.9,215.0 L185.4,215.1 L185.9,215.2 L186.4,215.1 L186.9,215.1 L187.4,215.2 L187.9,215.2 L188.4,215.1 L188.9,215.1 L189.4,214.9 L189.9,215.1 L190.4,214.9 L190.9,215.0 L191.4,214.9 L191.9,215.1 L192.4,215.1 L192.9,215.0 L193.4,214.8 L193.9,214.8 L194.4,214.6 L194.9,214.4 L195.4,213.6 L195.9,212.0 L196.4,209.1 L196.9,205.4 L197.4,203.6 L197.9,205.2 L198.4,209.1 L198.9,212.0 L199.4,213.7 L199.9,214.3 L200.4,214.6 L200.9,214.7 L201.4,215.1 L201.9,215.1 L202.4,215.0 L202.9,214.9 L203.4,214.9 L203.9,215.3 L204.4,215.1 L204.9,215.3 L205.4,215.2 L205.9,215.1 L206.4,215.0 L206.9,215.2 L207.4,215.2 L207.9,215.1 L208.4,215.0 L208.9,214.8 L209.4,215.3 L209.9,215.1 L210.4,215.2 L210.9,215.0 L211.4,215.1 L211.9,214.9 L212.4,215.2 L212.9,215.1 L213.4,215.1 L213.9,215.2 L214.4,215.1 L214.9,215.2 L215.4,214.8 L215.9,215.0 L216.4,215.1 L216.9,215.0 L217.4,214.7 L217.9,214.9 L218.4,214.7 L218.9,214.5 L219.4,214.0 L219.9,213.2 L220.4,211.9 L220.9,210.0 L221.3,208.5 L221.8,207.8 L222.3,208.9 L222.8,210.9 L223.3,212.4 L223.8,213.5 L224.3,213.3 L224.8,213.1 L225.3,212.0 L225.8,210.2 L226.3,208.6 L226.8,208.1 L227.3,209.6 L227.8,211.1 L228.3,212.9 L228.8,213.9 L229.3,214.3 L229.8,214.6 L230.3,214.8 L230.8,214.8 L231.3,214.4 L231.8,214.3 L232.3,214.1 L232.8,214.1 L233.3,214.0 L233.8,214.3 L234.3,214.7 L234.8,215.0 L235.3,214.9 L235.8,215.0 L236.3,214.9 L236.8,215.1 L237.3,214.9 L237.8,215.2 L238.3,215.0 L238.8,215.1 L239.3,215.2 L239.8,215.2 L240.3,215.1 L240.8,215.2 L241.3,215.0 L241.8,215.2 L242.3,215.3 L242.8,215.1 L243.3,214.9 L243.8,214.9 L244.3,215.2 L244.8,215.2 L245.3,215.1 L245.8,215.2 L246.3,215.2 L246.8,215.2 L247.3,215.3 L247.8,215.2 L248.3,215.2 L248.8,215.1 L249.3,215.3 L249.8,215.1 L250.3,215.2 L250.8,215.2 L251.3,215.2 L251.8,214.6 L252.3,214.9 L252.8,214.9 L253.3,214.9 L253.8,215.0 L254.3,214.9 L254.8,214.8 L255.3,214.6 L255.8,214.2 L256.3,213.5 L256.8,213.0 L257.3,211.5 L257.8,210.2 L258.3,209.8 L258.8,210.2 L259.3,211.1 L259.8,212.5 L260.3,213.3 L260.8,214.2 L261.3,214.6 L261.8,215.0 L262.3,215.2 L262.8,215.0 L263.3,215.0 L263.8,215.1 L264.3,215.2 L264.8,215.0 L265.3,215.1 L265.8,215.1 L266.3,215.2 L266.8,214.9 L267.3,215.0 L267.8,215.1 L268.3,215.2 L268.8,215.1 L269.3,214.9 L269.8,214.8 L270.3,215.1 L270.8,215.2 L271.3,215.4 L271.8,214.8 L272.3,215.3 L272.8,215.0 L273.3,215.1 L273.8,215.0 L274.3,215.2 L274.8,215.3 L275.3,215.1 L275.8,215.1 L276.3,215.0 L276.8,215.3 L277.3,215.2 L277.8,215.1 L278.3,215.3 L278.8,215.1 L279.3,215.0 L279.8,215.1 L280.3,215.2 L280.8,214.9 L281.3,214.7 L281.8,214.4 L282.3,213.7 L282.8,213.2 L283.3,212.1 L283.7,211.8 L284.2,212.3 L284.7,213.1 L285.2,214.0 L285.7,214.3 L286.2,214.7 L286.7,214.8 L287.2,214.6 L287.7,214.3 L288.2,213.8 L288.7,213.3 L289.2,212.6 L289.7,212.0 L290.2,211.9 L290.7,212.6 L291.2,213.5 L291.7,214.0 L292.2,214.6 L292.7,215.0 L293.2,215.0 L293.7,215.1 L294.2,215.0 L294.7,214.9 L295.2,215.0 L295.7,215.0 L296.2,215.2 L296.7,215.1 L297.2,215.1 L297.7,215.0 L298.2,215.2 L298.7,215.2 L299.2,215.0 L299.7,215.1 L300.2,215.2 L300.7,215.1 L301.2,215.1 L301.7,215.1 L302.2,215.0 L302.7,215.1 L303.2,215.1 L303.7,215.2 L304.2,215.3 L304.7,215.1 L305.2,214.9 L305.7,215.0 L306.2,215.0 L306.7,214.8 L307.2,214.6 L307.7,214.1 L308.2,213.2 L308.7,212.4 L309.2,211.7 L309.7,211.5 L310.2,211.9 L310.7,212.7 L311.2,213.3 L311.7,213.9 L312.2,214.1 L312.7,214.2 L313.2,214.1 L313.7,214.0 L314.2,213.8 L314.7,214.6 L315.2,214.6 L315.7,214.8 L316.2,215.0 L316.7,215.2 L317.2,215.1 L317.7,215.1 L318.2,215.0 L318.7,215.1 L319.2,215.1 L319.7,215.2 L320.2,215.1 L320.7,215.2 L321.2,215.3 L321.7,215.1 L322.2,215.2 L322.7,215.3 L323.2,215.2 L323.7,215.4 L324.2,215.2 L324.7,215.1 L325.2,215.2 L325.7,215.2 L326.2,214.9 L326.7,215.0 L327.2,215.1 L327.7,215.1 L328.2,215.2 L328.7,215.2 L329.2,215.2 L329.7,215.2 L330.2,215.2 L330.7,215.3" class="xrd"/>
<text x="24.3" y="205.0" class="lab">VWCe/Ti</text>
<path d="M17.7,263.9 L18.2,264.7 L18.7,265.0 L19.2,265.6 L19.7,264.6 L20.2,264.0 L20.7,264.6 L21.2,264.4 L21.7,264.3 L22.2,265.1 L22.7,263.8 L23.2,265.2 L23.7,264.7 L24.2,263.9 L24.7,265.0 L25.2,265.0 L25.7,265.2 L26.2,265.0 L26.7,265.9 L27.2,265.4 L27.7,264.7 L28.2,265.2 L28.7,265.4 L29.2,265.3 L29.7,265.3 L30.2,265.4 L30.7,265.3 L31.2,266.1 L31.7,265.4 L32.2,265.8 L32.7,265.4 L33.2,265.7 L33.7,266.0 L34.1,265.8 L34.6,266.1 L35.1,265.6 L35.6,265.9 L36.1,265.7 L36.6,266.3 L37.1,265.5 L37.6,266.1 L38.1,265.7 L38.6,265.8 L39.1,266.4 L39.6,266.1 L40.1,266.3 L40.6,266.1 L41.1,265.9 L41.6,266.1 L42.1,266.0 L42.6,266.6 L43.1,266.3 L43.6,266.3 L44.1,266.1 L44.6,266.6 L45.1,266.3 L45.6,266.4 L46.1,266.9 L46.6,266.8 L47.1,266.4 L47.6,266.8 L48.1,266.9 L48.6,266.4 L49.1,266.6 L49.6,266.7 L50.1,266.7 L50.6,266.8 L51.1,266.9 L51.6,266.9 L52.1,266.7 L52.6,266.5 L53.1,266.9 L53.6,266.9 L54.1,266.9 L54.6,267.1 L55.1,266.8 L55.6,266.7 L56.1,267.1 L56.6,266.8 L57.1,267.1 L57.6,266.8 L58.1,266.8 L58.6,267.1 L59.1,267.4 L59.6,267.1 L60.1,267.3 L60.6,267.3 L61.1,267.2 L61.6,266.9 L62.1,267.2 L62.6,267.2 L63.1,267.5 L63.6,267.3 L64.1,267.5 L64.6,267.1 L65.1,267.3 L65.6,267.3 L66.1,267.3 L66.6,267.3 L67.1,267.1 L67.6,267.2 L68.1,267.4 L68.6,267.3 L69.1,267.2 L69.6,267.1 L70.1,267.3 L70.6,267.1 L71.1,267.5 L71.6,267.4 L72.1,267.7 L72.6,267.3 L73.1,267.6 L73.6,267.6 L74.1,267.3 L74.6,267.5 L75.1,267.6 L75.6,267.3 L76.1,267.5 L76.6,267.3 L77.1,267.6 L77.6,267.4 L78.1,267.3 L78.6,267.5 L79.1,267.3 L79.6,267.6 L80.1,267.6 L80.6,267.5 L81.1,267.4 L81.6,267.6 L82.1,267.6 L82.6,267.5 L83.1,267.4 L83.6,267.7 L84.1,267.8 L84.6,267.6 L85.1,267.5 L85.6,267.7 L86.1,267.6 L86.6,267.9 L87.1,267.6 L87.6,267.6 L88.1,267.5 L88.6,267.6 L89.1,267.5 L89.6,267.8 L90.1,267.5 L90.6,267.9 L91.1,267.7 L91.6,267.5 L92.1,267.5 L92.6,267.9 L93.1,267.5 L93.6,267.6 L94.1,267.7 L94.6,267.5 L95.1,267.5 L95.6,267.3 L96.1,267.6 L96.5,267.4 L97.0,267.3 L97.5,267.4 L98.0,266.9 L98.5,266.6 L99.0,266.7 L99.5,266.1 L100.0,265.4 L100.5,263.3 L101.0,258.4 L101.5,248.0 L102.0,233.4 L102.5,220.5 L103.0,222.0 L103.5,235.5 L104.0,250.5 L104.5,259.5 L105.0,264.0 L105.5,265.6 L106.0,266.2 L106.5,266.8 L107.0,267.1 L107.5,267.3 L108.0,267.2 L108.5,267.1 L109.0,267.1 L109.5,267.3 L110.0,267.1 L110.5,265.9 L111.0,263.1 L111.5,259.8 L112.0,260.4 L112.5,264.2 L113.0,266.5 L113.5,267.4 L114.0,267.4 L114.5,267.5 L115.0,267.8 L115.5,267.8 L116.0,267.9 L116.5,267.7 L117.0,267.7 L117.5,267.9 L118.0,267.6 L118.5,267.9 L119.0,268.1 L119.5,268.2 L120.0,267.9 L120.5,267.9 L121.0,268.0 L121.5,267.9 L122.0,267.8 L122.5,268.0 L123.0,267.9 L123.5,267.8 L124.0,267.9 L124.5,268.1 L125.0,267.9 L125.5,267.9 L126.0,267.7 L126.5,268.1 L127.0,268.2 L127.5,268.0 L128.0,268.0 L128.5,268.1 L129.0,267.9 L129.5,268.0 L130.0,267.9 L130.5,268.1 L131.0,268.1 L131.5,268.0 L132.0,268.1 L132.5,267.9 L133.0,268.0 L133.5,268.0 L134.0,267.8 L134.5,268.0 L135.0,267.9 L135.5,267.9 L136.0,268.1 L136.5,268.1 L137.0,268.0 L137.5,268.2 L138.0,268.1 L138.5,267.9 L139.0,268.0 L139.5,268.2 L140.0,267.7 L140.5,268.2 L141.0,268.0 L141.5,267.9 L142.0,267.9 L142.5,268.1 L143.0,268.0 L143.5,268.0 L144.0,267.8 L144.5,267.9 L145.0,267.9 L145.5,267.8 L146.0,267.3 L146.5,266.9 L147.0,265.8 L147.5,265.0 L148.0,264.9 L148.5,266.2 L149.0,266.8 L149.5,267.3 L150.0,267.4 L150.5,267.1 L151.0,266.6 L151.5,266.6 L152.0,266.9 L152.5,266.9 L153.0,266.3 L153.5,264.7 L154.0,262.1 L154.5,259.5 L155.0,259.1 L155.5,261.4 L156.0,264.2 L156.5,265.4 L157.0,265.8 L157.5,265.7 L158.0,265.2 L158.5,265.6 L158.9,266.4 L159.4,267.1 L159.9,267.3 L160.4,267.7 L160.9,267.8 L161.4,267.9 L161.9,268.0 L162.4,267.9 L162.9,267.9 L163.4,267.8 L163.9,268.1 L164.4,267.8 L164.9,268.0 L165.4,268.2 L165.9,267.9 L166.4,267.8 L166.9,267.8 L167.4,267.8 L167.9,267.5 L168.4,267.3 L168.9,266.7 L169.4,266.8 L169.9,267.3 L170.4,267.6 L170.9,268.0 L171.4,267.7 L171.9,268.2 L172.4,268.2 L172.9,268.3 L173.4,268.1 L173.9,268.1 L174.4,268.1 L174.9,268.2 L175.4,268.0 L175.9,268.1 L176.4,268.0 L176.9,268.1 L177.4,268.3 L177.9,268.1 L178.4,268.2 L178.9,268.0 L179.4,268.2 L179.9,268.2 L180.4,268.1 L180.9,268.3 L181.4,268.2 L181.9,268.0 L182.4,268.2 L182.9,268.1 L183.4,268.1 L183.9,268.2 L184.4,268.2 L184.9,268.1 L185.4,268.2 L185.9,268.1 L186.4,268.1 L186.9,268.2 L187.4,268.3 L187.9,267.9 L188.4,267.9 L188.9,268.1 L189.4,268.0 L189.9,267.9 L190.4,268.0 L190.9,268.1 L191.4,268.2 L191.9,268.2 L192.4,268.0 L192.9,267.8 L193.4,267.7 L193.9,267.9 L194.4,267.7 L194.9,267.3 L195.4,266.5 L195.9,265.2 L196.4,262.0 L196.9,258.4 L197.4,256.6 L197.9,258.5 L198.4,262.1 L198.9,265.0 L199.4,266.9 L199.9,267.4 L200.4,267.6 L200.9,267.7 L201.4,267.8 L201.9,267.9 L202.4,268.0 L202.9,267.8 L203.4,268.1 L203.9,268.0 L204.4,267.9 L204.9,268.1 L205.4,268.2 L205.9,268.2 L206.4,268.1 L206.9,268.1 L207.4,268.2 L207.9,268.0 L208.4,268.0 L208.9,268.0 L209.4,268.2 L209.9,268.0 L210.4,268.0 L210.9,267.8 L211.4,268.2 L211.9,268.1 L212.4,267.9 L212.9,268.2 L213.4,268.1 L213.9,268.0 L214.4,268.1 L214.9,268.2 L215.4,268.0 L215.9,268.2 L216.4,267.9 L216.9,268.0 L217.4,267.9 L217.9,267.9 L218.4,267.8 L218.9,267.6 L219.4,267.1 L219.9,266.4 L220.4,264.9 L220.9,263.1 L221.3,261.4 L221.8,260.9 L222.3,262.1 L222.8,264.0 L223.3,265.5 L223.8,266.3 L224.3,266.5 L224.8,266.1 L225.3,264.8 L225.8,263.1 L226.3,261.2 L226.8,261.4 L227.3,262.3 L227.8,264.3 L228.3,265.6 L228.8,266.9 L229.3,267.4 L229.8,267.6 L230.3,267.7 L230.8,268.1 L231.3,267.8 L231.8,267.4 L232.3,267.4 L232.8,267.0 L233.3,267.0 L233.8,267.5 L234.3,267.7 L234.8,267.8 L235.3,267.8 L235.8,267.9 L236.3,268.0 L236.8,268.2 L237.3,268.1 L237.8,268.1 L238.3,268.2 L238.8,268.1 L239.3,268.2 L239.8,268.2 L240.3,267.9 L240.8,268.2 L241.3,267.9 L241.8,268.2 L242.3,268.1 L242.8,268.3 L243.3,268.2 L243.8,268.0 L244.3,268.1 L244.8,268.4 L245.3,268.0 L245.8,268.2 L246.3,268.2 L246.8,268.1 L247.3,268.4 L247.8,268.0 L248.3,268.0 L248.8,268.2 L249.3,268.1 L249.8,268.2 L250.3,268.2 L250.8,268.1 L251.3,268.3 L251.8,268.1 L252.3,268.1 L252.8,267.8 L253.3,268.2 L253.8,267.8 L254.3,267.9 L254.8,267.8 L255.3,267.7 L255.8,267.1 L256.3,266.5 L256.8,265.7 L257.3,264.5 L257.8,263.3 L258.3,262.6 L258.8,263.3 L259.3,264.2 L259.8,265.3 L260.3,266.7 L260.8,267.2 L261.3,267.5 L261.8,267.9 L262.3,267.9 L262.8,268.2 L263.3,268.0 L263.8,268.2 L264.3,268.1 L264.8,268.0 L265.3,268.2 L265.8,268.0 L266.3,268.0 L266.8,268.1 L267.3,268.0 L267.8,268.2 L268.3,268.4 L268.8,268.0 L269.3,268.1 L269.8,268.2 L270.3,268.2 L270.8,268.0 L271.3,268.2 L271.8,268.2 L272.3,268.2 L272.8,267.9 L273.3,268.2 L273.8,268.5 L274.3,268.2 L274.8,268.3 L275.3,268.4 L275.8,268.1 L276.3,268.2 L276.8,268.0 L277.3,268.2 L277.8,268.0 L278.3,268.0 L278.8,268.1 L279.3,268.0 L279.8,267.9 L280.3,267.9 L280.8,268.1 L281.3,267.8 L281.8,267.4 L282.3,266.7 L282.8,266.0 L283.3,265.0 L283.7,264.9 L284.2,265.3 L284.7,266.1 L285.2,266.9 L285.7,267.4 L286.2,267.6 L286.7,267.8 L287.2,267.8 L287.7,267.4 L288.2,266.9 L288.7,266.3 L289.2,265.5 L289.7,265.1 L290.2,265.0 L290.7,265.9 L291.2,266.2 L291.7,267.3 L292.2,267.7 L292.7,267.8 L293.2,268.1 L293.7,268.1 L294.2,268.1 L294.7,268.3 L295.2,268.3 L295.7,268.2 L296.2,268.1 L296.7,268.1 L297.2,268.1 L297.7,268.2 L298.2,268.0 L298.7,268.4 L299.2,268.2 L299.7,268.0 L300.2,268.0 L300.7,268.0 L301.2,268.0 L301.7,268.0 L302.2,268.1 L302.7,268.4 L303.2,268.2 L303.7,268.2 L304.2,267.9 L304.7,268.1 L305.2,268.1 L305.7,268.0 L306.2,268.1 L306.7,267.8 L307.2,267.5 L307.7,267.2 L308.2,266.5 L308.7,265.9 L309.2,265.0 L309.7,264.6 L310.2,264.7 L310.7,265.7 L311.2,266.5 L311.7,267.0 L312.2,267.1 L312.7,267.4 L313.2,267.1 L313.7,267.1 L314.2,267.2 L314.7,267.6 L315.2,267.8 L315.7,267.8 L316.2,268.1 L316.7,268.2 L317.2,268.4 L317.7,268.1 L318.2,268.2 L318.7,268.1 L319.2,268.2 L319.7,268.3 L320.2,268.3 L320.7,268.3 L321.2,267.9 L321.7,268.1 L322.2,268.1 L322.7,268.0 L323.2,268.0 L323.7,268.1 L324.2,268.1 L324.7,267.9 L325.2,268.4 L325.7,268.2 L326.2,268.3 L326.7,268.2 L327.2,268.5 L327.7,268.3 L328.2,268.1 L328.7,268.3 L329.2,268.1 L329.7,268.3 L330.2,268.2 L330.7,268.4" class="xrd"/>
<text x="25.5" y="261.7" class="lab">VCr/Ti</text>
<path d="M17.7,314.6 L18.2,314.5 L18.7,314.0 L19.2,314.4 L19.7,314.0 L20.2,314.0 L20.7,314.9 L21.2,314.0 L21.7,314.7 L22.2,313.7 L22.7,314.3 L23.2,314.8 L23.7,314.6 L24.2,314.6 L24.7,314.7 L25.2,314.3 L25.7,314.7 L26.2,314.3 L26.7,314.7 L27.2,315.1 L27.7,315.6 L28.2,315.6 L28.7,315.1 L29.2,315.0 L29.7,314.8 L30.2,315.5 L30.7,315.3 L31.2,315.6 L31.7,315.5 L32.2,316.1 L32.7,315.2 L33.2,315.7 L33.7,315.6 L34.1,315.4 L34.6,315.5 L35.1,316.0 L35.6,315.2 L36.1,315.5 L36.6,315.6 L37.1,316.0 L37.6,316.3 L38.1,316.3 L38.6,315.9 L39.1,315.9 L39.6,316.1 L40.1,315.5 L40.6,315.9 L41.1,315.8 L41.6,315.8 L42.1,316.4 L42.6,315.9 L43.1,316.0 L43.6,316.5 L44.1,316.0 L44.6,316.0 L45.1,316.0 L45.6,316.0 L46.1,316.6 L46.6,316.4 L47.1,316.5 L47.6,316.4 L48.1,316.4 L48.6,316.2 L49.1,316.3 L49.6,316.7 L50.1,316.3 L50.6,316.2 L51.1,316.5 L51.6,316.9 L52.1,316.7 L52.6,316.6 L53.1,317.0 L53.6,316.7 L54.1,316.9 L54.6,316.5 L55.1,316.6 L55.6,316.7 L56.1,317.0 L56.6,316.7 L57.1,316.9 L57.6,316.9 L58.1,316.6 L58.6,317.0 L59.1,317.1 L59.6,316.7 L60.1,316.5 L60.6,316.6 L61.1,316.8 L61.6,316.5 L62.1,317.0 L62.6,316.6 L63.1,316.6 L63.6,317.0 L64.1,316.9 L64.6,317.2 L65.1,317.2 L65.6,316.9 L66.1,317.3 L66.6,317.0 L67.1,317.0 L67.6,317.1 L68.1,316.9 L68.6,316.8 L69.1,317.1 L69.6,317.0 L70.1,316.9 L70.6,317.2 L71.1,317.3 L71.6,317.6 L72.1,317.1 L72.6,317.0 L73.1,317.1 L73.6,316.9 L74.1,317.0 L74.6,317.1 L75.1,317.3 L75.6,317.4 L76.1,317.3 L76.6,317.2 L77.1,317.3 L77.6,317.4 L78.1,317.4 L78.6,317.2 L79.1,317.6 L79.6,317.4 L80.1,317.3 L80.6,317.2 L81.1,317.3 L81.6,317.4 L82.1,317.5 L82.6,317.6 L83.1,317.2 L83.6,317.3 L84.1,317.4 L84.6,317.5 L85.1,317.6 L85.6,317.2 L86.1,317.4 L86.6,317.4 L87.1,317.2 L87.6,317.7 L88.1,317.5 L88.6,317.4 L89.1,317.3 L89.6,317.6 L90.1,317.4 L90.6,317.5 L91.1,317.5 L91.6,317.4 L92.1,317.4 L92.6,317.2 L93.1,317.3 L93.6,317.2 L94.1,317.5 L94.6,317.3 L95.1,317.5 L95.6,317.5 L96.1,317.4 L96.5,317.1 L97.0,317.1 L97.5,317.2 L98.0,316.7 L98.5,316.6 L99.0,316.5 L99.5,316.1 L100.0,315.3 L100.5,313.6 L101.0,308.4 L101.5,299.2 L102.0,285.2 L102.5,273.4 L103.0,274.8 L103.5,287.8 L104.0,301.1 L104.5,310.0 L105.0,314.0 L105.5,315.6 L106.0,316.1 L106.5,316.7 L107.0,316.9 L107.5,316.9 L108.0,317.2 L108.5,317.1 L109.0,317.0 L109.5,317.0 L110.0,316.8 L110.5,315.4 L111.0,312.6 L111.5,309.2 L112.0,310.3 L112.5,313.8 L113.0,316.2 L113.5,317.2 L114.0,317.1 L114.5,317.4 L115.0,317.4 L115.5,317.7 L116.0,317.6 L116.5,317.6 L117.0,317.9 L117.5,317.7 L118.0,317.7 L118.5,317.9 L119.0,317.6 L119.5,317.5 L120.0,317.6 L120.5,317.8 L121.0,317.8 L121.5,317.6 L122.0,317.9 L122.5,317.7 L123.0,317.8 L123.5,317.8 L124.0,317.6 L124.5,318.0 L125.0,317.6 L125.5,317.8 L126.0,317.8 L126.5,318.0 L127.0,317.8 L127.5,317.9 L128.0,318.2 L128.5,318.0 L129.0,318.0 L129.5,317.9 L130.0,317.9 L130.5,317.9 L131.0,317.6 L131.5,317.7 L132.0,317.8 L132.5,317.7 L133.0,317.6 L133.5,317.8 L134.0,318.0 L134.5,317.8 L135.0,317.7 L135.5,318.0 L136.0,317.8 L136.5,317.7 L137.0,317.7 L137.5,317.7 L138.0,317.8 L138.5,317.9 L139.0,317.9 L139.5,317.7 L140.0,317.7 L140.5,317.9 L141.0,317.9 L141.5,317.7 L142.0,317.7 L142.5,317.9 L143.0,318.0 L143.5,317.8 L144.0,317.7 L144.5,317.6 L145.0,317.6 L145.5,317.8 L146.0,317.4 L146.5,316.8 L147.0,315.8 L147.5,314.4 L148.0,314.8 L148.5,315.8 L149.0,316.8 L149.5,317.1 L150.0,317.0 L150.5,316.8 L151.0,316.4 L151.5,316.4 L152.0,316.7 L152.5,316.7 L153.0,316.0 L153.5,314.5 L154.0,311.9 L154.5,309.5 L155.0,309.0 L155.5,311.3 L156.0,313.7 L156.5,315.5 L157.0,316.0 L157.5,315.7 L158.0,315.2 L158.5,315.4 L158.9,316.1 L159.4,317.0 L159.9,317.4 L160.4,317.4 L160.9,317.7 L161.4,317.8 L161.9,317.8 L162.4,318.0 L162.9,318.0 L163.4,317.9 L163.9,317.7 L164.4,317.7 L164.9,317.9 L165.4,317.8 L165.9,317.8 L166.4,317.7 L166.9,317.9 L167.4,317.6 L167.9,317.2 L168.4,317.0 L168.9,316.6 L169.4,316.6 L169.9,317.0 L170.4,317.4 L170.9,317.6 L171.4,317.7 L171.9,317.7 L172.4,317.8 L172.9,317.6 L173.4,318.0 L173.9,317.9 L174.4,317.9 L174.9,318.0 L175.4,318.1 L175.9,318.1 L176.4,317.8 L176.9,318.0 L177.4,318.1 L177.9,317.7 L178.4,317.9 L178.9,317.9 L179.4,318.0 L179.9,317.9 L180.4,318.0 L180.9,317.9 L181.4,317.9 L181.9,318.0 L182.4,317.9 L182.9,318.0 L183.4,318.0 L183.9,318.0 L184.4,317.9 L184.9,317.8 L185.4,317.8 L185.9,318.2 L186.4,317.7 L186.9,317.9 L187.4,317.9 L187.9,317.9 L188.4,317.9 L188.9,317.8 L189.4,317.9 L189.9,317.8 L190.4,317.8 L190.9,317.7 L191.4,318.0 L191.9,318.0 L192.4,318.0 L192.9,318.0 L193.4,317.7 L193.9,317.6 L194.4,317.5 L194.9,317.2 L195.4,316.5 L195.9,314.7 L196.4,311.7 L196.9,308.3 L197.4,306.2 L197.9,308.1 L198.4,312.0 L198.9,314.8 L199.4,316.6 L199.9,317.4 L200.4,317.5 L200.9,317.8 L201.4,317.7 L201.9,317.9 L202.4,317.8 L202.9,317.7 L203.4,317.8 L203.9,318.0 L204.4,317.8 L204.9,317.8 L205.4,317.8 L205.9,318.0 L206.4,317.8 L206.9,317.9 L207.4,318.0 L207.9,317.8 L208.4,317.8 L208.9,317.8 L209.4,317.9 L209.9,318.1 L210.4,317.9 L210.9,317.8 L211.4,317.9 L211.9,317.7 L212.4,317.9 L212.9,317.7 L213.4,317.7 L213.9,318.0 L214.4,318.0 L214.9,317.9 L215.4,317.8 L215.9,317.7 L216.4,317.9 L216.9,317.9 L217.4,317.5 L217.9,317.7 L218.4,317.5 L218.9,317.2 L219.4,316.9 L219.9,316.4 L220.4,314.6 L220.9,312.8 L221.3,310.9 L221.8,310.8 L222.3,311.7 L222.8,313.5 L223.3,315.1 L223.8,316.1 L224.3,316.3 L224.8,315.9 L225.3,314.6 L225.8,313.0 L226.3,311.2 L226.8,310.8 L227.3,312.1 L227.8,314.1 L228.3,315.7 L228.8,316.7 L229.3,317.0 L229.8,317.4 L230.3,317.7 L230.8,317.6 L231.3,317.3 L231.8,317.3 L232.3,317.1 L232.8,316.9 L233.3,317.0 L233.8,316.9 L234.3,317.5 L234.8,317.6 L235.3,317.6 L235.8,317.8 L236.3,317.9 L236.8,317.9 L237.3,317.9 L237.8,317.9 L238.3,318.0 L238.8,318.0 L239.3,317.9 L239.8,317.7 L240.3,318.0 L240.8,317.8 L241.3,318.0 L241.8,318.0 L242.3,318.1 L242.8,317.9 L243.3,318.1 L243.8,317.9 L244.3,318.0 L244.8,317.7 L245.3,318.1 L245.8,317.8 L246.3,317.8 L246.8,317.8 L247.3,318.0 L247.8,317.9 L248.3,317.9 L248.8,317.9 L249.3,317.8 L249.8,317.9 L250.3,317.9 L250.8,317.8 L251.3,317.9 L251.8,317.9 L252.3,317.8 L252.8,317.9 L253.3,318.1 L253.8,317.8 L254.3,317.8 L254.8,317.8 L255.3,317.7 L255.8,317.0 L256.3,316.5 L256.8,315.4 L257.3,314.2 L257.8,312.9 L258.3,312.5 L258.8,312.9 L259.3,313.9 L259.8,315.3 L260.3,316.2 L260.8,316.8 L261.3,317.6 L261.8,317.7 L262.3,317.7 L262.8,317.6 L263.3,317.9 L263.8,318.0 L264.3,318.1 L264.8,317.8 L265.3,317.9 L265.8,318.0 L266.3,317.9 L266.8,318.0 L267.3,317.8 L267.8,318.1 L268.3,318.0 L268.8,317.8 L269.3,318.0 L269.8,318.0 L270.3,318.0 L270.8,317.7 L271.3,317.9 L271.8,317.8 L272.3,318.1 L272.8,318.0 L273.3,317.9 L273.8,317.9 L274.3,318.0 L274.8,318.2 L275.3,317.9 L275.8,317.8 L276.3,317.9 L276.8,318.1 L277.3,318.1 L277.8,318.0 L278.3,318.0 L278.8,317.8 L279.3,318.0 L279.8,317.9 L280.3,317.9 L280.8,317.9 L281.3,317.4 L281.8,317.2 L282.3,316.7 L282.8,315.8 L283.3,315.2 L283.7,314.4 L284.2,315.2 L284.7,316.1 L285.2,316.8 L285.7,317.2 L286.2,317.5 L286.7,317.4 L287.2,317.3 L287.7,317.1 L288.2,316.5 L288.7,316.2 L289.2,315.3 L289.7,314.8 L290.2,314.9 L290.7,315.5 L291.2,316.2 L291.7,316.9 L292.2,317.5 L292.7,317.6 L293.2,317.6 L293.7,317.6 L294.2,317.9 L294.7,317.9 L295.2,318.0 L295.7,317.9 L296.2,317.9 L296.7,317.9 L297.2,317.8 L297.7,318.2 L298.2,318.1 L298.7,318.0 L299.2,317.9 L299.7,317.9 L300.2,317.7 L300.7,318.0 L301.2,317.9 L301.7,317.9 L302.2,317.9 L302.7,317.9 L303.2,317.8 L303.7,317.9 L304.2,318.0 L304.7,317.8 L305.2,317.8 L305.7,318.0 L306.2,317.7 L306.7,317.6 L307.2,317.4 L307.7,316.9 L308.2,316.0 L308.7,315.6 L309.2,314.7 L309.7,314.6 L310.2,314.7 L310.7,315.3 L311.2,316.4 L311.7,316.6 L312.2,316.9 L312.7,317.0 L313.2,316.9 L313.7,316.8 L314.2,317.0 L314.7,317.3 L315.2,317.4 L315.7,317.6 L316.2,317.9 L316.7,317.7 L317.2,317.7 L317.7,317.7 L318.2,317.9 L318.7,318.1 L319.2,318.0 L319.7,318.0 L320.2,318.0 L320.7,318.1 L321.2,317.9 L321.7,317.8 L322.2,318.1 L322.7,318.0 L323.2,318.1 L323.7,318.0 L324.2,317.8 L324.7,318.2 L325.2,317.8 L325.7,317.8 L326.2,318.1 L326.7,317.8 L327.2,317.8 L327.7,317.9 L328.2,317.9 L328.7,318.1 L329.2,317.9 L329.7,318.1 L330.2,318.0 L330.7,317.8" class="xrd"/>
<text x="25.5" y="306.1" class="lab">VCe/Ti</text>
<path d="M17.7,364.8 L18.2,364.3 L18.7,364.2 L19.2,364.3 L19.7,364.0 L20.2,365.0 L20.7,364.6 L21.2,365.1 L21.7,365.5 L22.2,365.3 L22.7,365.0 L23.2,365.5 L23.7,365.2 L24.2,364.8 L24.7,365.1 L25.2,365.1 L25.7,365.2 L26.2,365.5 L26.7,366.1 L27.2,365.2 L27.7,366.1 L28.2,365.5 L28.7,365.7 L29.2,365.6 L29.7,365.6 L30.2,365.9 L30.7,365.5 L31.2,366.2 L31.7,365.6 L32.2,366.4 L32.7,365.6 L33.2,366.2 L33.7,365.9 L34.1,365.6 L34.6,366.7 L35.1,366.2 L35.6,366.0 L36.1,366.0 L36.6,365.9 L37.1,366.1 L37.6,366.2 L38.1,366.3 L38.6,366.3 L39.1,366.4 L39.6,366.2 L40.1,366.4 L40.6,366.3 L41.1,366.1 L41.6,366.3 L42.1,366.7 L42.6,366.6 L43.1,366.5 L43.6,366.8 L44.1,367.1 L44.6,367.0 L45.1,366.6 L45.6,366.8 L46.1,366.9 L46.6,366.7 L47.1,367.1 L47.6,366.4 L48.1,366.9 L48.6,367.0 L49.1,366.5 L49.6,367.2 L50.1,367.1 L50.6,367.0 L51.1,367.2 L51.6,367.1 L52.1,367.0 L52.6,367.1 L53.1,367.1 L53.6,366.9 L54.1,366.8 L54.6,366.9 L55.1,367.6 L55.6,366.9 L56.1,367.1 L56.6,367.2 L57.1,367.5 L57.6,367.4 L58.1,367.4 L58.6,367.6 L59.1,367.1 L59.6,367.2 L60.1,367.4 L60.6,367.6 L61.1,367.2 L61.6,367.3 L62.1,367.2 L62.6,367.5 L63.1,367.0 L63.6,367.5 L64.1,367.1 L64.6,367.9 L65.1,367.5 L65.6,367.5 L66.1,368.0 L66.6,367.7 L67.1,367.8 L67.6,367.8 L68.1,367.7 L68.6,367.8 L69.1,367.6 L69.6,367.6 L70.1,367.6 L70.6,367.8 L71.1,367.8 L71.6,367.4 L72.1,367.8 L72.6,367.7 L73.1,367.8 L73.6,367.6 L74.1,367.6 L74.6,367.6 L75.1,367.7 L75.6,367.7 L76.1,367.8 L76.6,367.7 L77.1,368.0 L77.6,367.8 L78.1,367.7 L78.6,368.0 L79.1,367.7 L79.6,367.8 L80.1,368.0 L80.6,368.1 L81.1,368.1 L81.6,368.0 L82.1,367.8 L82.6,367.8 L83.1,367.7 L83.6,367.6 L84.1,368.0 L84.6,368.2 L85.1,368.1 L85.6,368.2 L86.1,368.0 L86.6,368.0 L87.1,367.7 L87.6,368.2 L88.1,368.0 L88.6,368.0 L89.1,368.0 L89.6,368.0 L90.1,367.6 L90.6,368.0 L91.1,367.9 L91.6,367.8 L92.1,367.9 L92.6,367.7 L93.1,368.1 L93.6,367.9 L94.1,367.9 L94.6,367.9 L95.1,367.7 L95.6,367.9 L96.1,368.0 L96.5,367.7 L97.0,367.8 L97.5,367.4 L98.0,367.4 L98.5,366.9 L99.0,366.9 L99.5,366.7 L100.0,365.8 L100.5,363.8 L101.0,359.1 L101.5,349.5 L102.0,335.5 L102.5,323.7 L103.0,325.0 L103.5,337.8 L104.0,351.5 L104.5,360.5 L105.0,364.2 L105.5,366.0 L106.0,366.6 L106.5,367.0 L107.0,367.1 L107.5,367.7 L108.0,367.5 L108.5,367.5 L109.0,367.6 L109.5,367.8 L110.0,367.5 L110.5,366.0 L111.0,362.8 L111.5,359.9 L112.0,360.6 L112.5,364.3 L113.0,366.8 L113.5,367.6 L114.0,367.7 L114.5,367.9 L115.0,368.2 L115.5,368.1 L116.0,368.3 L116.5,368.1 L117.0,368.0 L117.5,368.0 L118.0,367.9 L118.5,368.0 L119.0,368.1 L119.5,368.1 L120.0,368.3 L120.5,368.2 L121.0,368.2 L121.5,368.1 L122.0,368.2 L122.5,368.4 L123.0,368.4 L123.5,368.4 L124.0,368.0 L124.5,368.3 L125.0,368.2 L125.5,368.3 L126.0,368.3 L126.5,368.3 L127.0,368.3 L127.5,368.3 L128.0,368.2 L128.5,368.5 L129.0,368.3 L129.5,368.4 L130.0,368.4 L130.5,368.2 L131.0,368.1 L131.5,368.5 L132.0,368.3 L132.5,368.2 L133.0,368.2 L133.5,368.5 L134.0,368.3 L134.5,368.4 L135.0,368.4 L135.5,368.2 L136.0,368.5 L136.5,368.3 L137.0,368.2 L137.5,368.4 L138.0,368.5 L138.5,368.1 L139.0,368.5 L139.5,368.2 L140.0,368.4 L140.5,368.3 L141.0,368.4 L141.5,368.3 L142.0,368.3 L142.5,368.5 L143.0,368.3 L143.5,368.2 L144.0,368.4 L144.5,368.5 L145.0,368.2 L145.5,368.2 L146.0,367.8 L146.5,367.3 L147.0,366.3 L147.5,365.3 L148.0,365.3 L148.5,366.3 L149.0,367.4 L149.5,367.8 L150.0,367.8 L150.5,367.1 L151.0,366.9 L151.5,367.0 L152.0,367.1 L152.5,367.0 L153.0,366.7 L153.5,365.0 L154.0,362.3 L154.5,359.7 L155.0,359.5 L155.5,361.9 L156.0,364.4 L156.5,366.2 L157.0,366.3 L157.5,366.0 L158.0,365.7 L158.5,365.7 L158.9,366.6 L159.4,367.3 L159.9,367.7 L160.4,367.9 L160.9,368.3 L161.4,368.2 L161.9,368.3 L162.4,368.5 L162.9,368.4 L163.4,368.3 L163.9,368.4 L164.4,368.4 L164.9,368.4 L165.4,368.4 L165.9,368.4 L166.4,368.4 L166.9,368.2 L167.4,368.4 L167.9,367.8 L168.4,367.5 L168.9,367.0 L169.4,367.3 L169.9,367.8 L170.4,367.9 L170.9,368.1 L171.4,368.5 L171.9,368.3 L172.4,368.4 L172.9,368.5 L173.4,368.3 L173.9,368.5 L174.4,368.3 L174.9,368.3 L175.4,368.5 L175.9,368.5 L176.4,368.4 L176.9,368.7 L177.4,368.5 L177.9,368.4 L178.4,368.2 L178.9,368.3 L179.4,368.4 L179.9,368.5 L180.4,368.4 L180.9,368.4 L181.4,368.6 L181.9,368.5 L182.4,368.6 L182.9,368.5 L183.4,368.8 L183.9,368.3 L184.4,368.5 L184.9,368.6 L185.4,368.5 L185.9,368.6 L186.4,368.4 L186.9,368.3 L187.4,368.4 L187.9,368.5 L188.4,368.4 L188.9,368.4 L189.4,368.4 L189.9,368.5 L190.4,368.4 L190.9,368.3 L191.4,368.4 L191.9,368.3 L192.4,368.4 L192.9,368.5 L193.4,368.4 L193.9,368.1 L194.4,368.1 L194.9,367.7 L195.4,367.1 L195.9,365.4 L196.4,362.4 L196.9,358.9 L197.4,356.9 L197.9,358.6 L198.4,362.1 L198.9,365.3 L199.4,367.0 L199.9,367.8 L200.4,368.1 L200.9,368.0 L201.4,368.1 L201.9,368.2 L202.4,368.2 L202.9,368.4 L203.4,368.2 L203.9,368.3 L204.4,368.4 L204.9,368.3 L205.4,368.5 L205.9,368.5 L206.4,368.4 L206.9,368.5 L207.4,368.5 L207.9,368.3 L208.4,368.4 L208.9,368.5 L209.4,368.3 L209.9,368.4 L210.4,368.3 L210.9,368.3 L211.4,368.3 L211.9,368.5 L212.4,368.3 L212.9,368.4 L213.4,368.3 L213.9,368.4 L214.4,368.3 L214.9,368.4 L215.4,368.4 L215.9,368.3 L216.4,368.3 L216.9,368.4 L217.4,368.3 L217.9,368.2 L218.4,368.1 L218.9,367.9 L219.4,367.5 L219.9,366.7 L220.4,364.8 L220.9,363.4 L221.3,361.5 L221.8,361.1 L222.3,362.3 L222.8,364.2 L223.3,365.9 L223.8,366.8 L224.3,366.7 L224.8,366.5 L225.3,365.3 L225.8,363.3 L226.3,362.0 L226.8,361.3 L227.3,362.7 L227.8,364.3 L228.3,366.2 L228.8,367.2 L229.3,367.6 L229.8,368.0 L230.3,368.2 L230.8,368.0 L231.3,368.0 L231.8,367.9 L232.3,367.5 L232.8,367.3 L233.3,367.5 L233.8,367.4 L234.3,367.9 L234.8,368.2 L235.3,368.3 L235.8,368.2 L236.3,368.5 L236.8,368.4 L237.3,368.4 L237.8,368.5 L238.3,368.5 L238.8,368.8 L239.3,368.5 L239.8,368.5 L240.3,368.3 L240.8,368.6 L241.3,368.5 L241.8,368.5 L242.3,368.5 L242.8,368.2 L243.3,368.3 L243.8,368.3 L244.3,368.6 L244.8,368.6 L245.3,368.4 L245.8,368.6 L246.3,368.4 L246.8,368.1 L247.3,368.6 L247.8,368.3 L248.3,368.4 L248.8,368.4 L249.3,368.5 L249.8,368.6 L250.3,368.5 L250.8,368.5 L251.3,368.6 L251.8,368.4 L252.3,368.4 L252.8,368.5 L253.3,368.3 L253.8,368.3 L254.3,368.2 L254.8,368.1 L255.3,368.0 L255.8,367.3 L256.3,366.9 L256.8,365.9 L257.3,364.8 L257.8,363.6 L258.3,363.0 L258.8,363.6 L259.3,364.5 L259.8,365.6 L260.3,366.8 L260.8,367.5 L261.3,368.0 L261.8,368.1 L262.3,368.2 L262.8,368.3 L263.3,368.3 L263.8,368.4 L264.3,368.4 L264.8,368.3 L265.3,368.3 L265.8,368.4 L266.3,368.2 L266.8,368.4 L267.3,368.4 L267.8,368.3 L268.3,368.2 L268.8,368.5 L269.3,368.5 L269.8,368.5 L270.3,368.5 L270.8,368.6 L271.3,368.4 L271.8,368.3 L272.3,368.4 L272.8,368.4 L273.3,368.5 L273.8,368.4 L274.3,368.4 L274.8,368.5 L275.3,368.4 L275.8,368.6 L276.3,368.5 L276.8,368.5 L277.3,368.3 L277.8,368.5 L278.3,368.4 L278.8,368.6 L279.3,368.4 L279.8,368.3 L280.3,368.3 L280.8,368.3 L281.3,368.1 L281.8,367.7 L282.3,367.1 L282.8,366.3 L283.3,365.6 L283.7,365.3 L284.2,365.6 L284.7,366.5 L285.2,367.2 L285.7,367.6 L286.2,368.0 L286.7,368.1 L287.2,368.0 L287.7,367.6 L288.2,367.4 L288.7,366.4 L289.2,365.8 L289.7,365.5 L290.2,365.4 L290.7,366.0 L291.2,366.5 L291.7,367.2 L292.2,367.9 L292.7,368.4 L293.2,368.0 L293.7,368.2 L294.2,368.4 L294.7,368.6 L295.2,368.5 L295.7,368.5 L296.2,368.3 L296.7,368.3 L297.2,368.6 L297.7,368.4 L298.2,368.5 L298.7,368.4 L299.2,368.5 L299.7,368.7 L300.2,368.6 L300.7,368.4 L301.2,368.3 L301.7,368.3 L302.2,368.3 L302.7,368.4 L303.2,368.4 L303.7,368.3 L304.2,368.4 L304.7,368.2 L305.2,368.4 L305.7,368.3 L306.2,368.2 L306.7,368.1 L307.2,367.7 L307.7,367.4 L308.2,366.6 L308.7,365.9 L309.2,365.2 L309.7,364.7 L310.2,365.2 L310.7,365.9 L311.2,366.5 L311.7,367.1 L312.2,367.5 L312.7,367.5 L313.2,367.5 L313.7,367.3 L314.2,367.6 L314.7,367.7 L315.2,368.0 L315.7,368.5 L316.2,368.3 L316.7,368.3 L317.2,368.4 L317.7,368.4 L318.2,368.4 L318.7,368.4 L319.2,368.6 L319.7,368.4 L320.2,368.3 L320.7,368.6 L321.2,368.4 L321.7,368.7 L322.2,368.4 L322.7,368.3 L323.2,368.4 L323.7,368.6 L324.2,368.2 L324.7,368.4 L325.2,368.3 L325.7,368.6 L326.2,368.6 L326.7,368.5 L327.2,368.5 L327.7,368.4 L328.2,368.6 L328.7,368.5 L329.2,368.4 L329.7,368.4 L330.2,368.5 L330.7,368.5" class="xrd"/>
<text x="24.3" y="357.7" class="lab">VMn/Ti</text>
<path d="M17.7,415.6 L18.2,415.9 L18.7,416.4 L19.2,416.7 L19.7,417.0 L20.2,416.3 L20.7,416.7 L21.2,416.8 L21.7,416.6 L22.2,416.5 L22.7,417.4 L23.2,416.3 L23.7,417.4 L24.2,416.0 L24.7,416.6 L25.2,417.0 L25.7,416.4 L26.2,416.9 L26.7,416.7 L27.2,417.0 L27.7,416.7 L28.2,416.7 L28.7,417.4 L29.2,417.4 L29.7,417.1 L30.2,417.3 L30.7,418.0 L31.2,416.7 L31.7,418.1 L32.2,418.1 L32.7,417.8 L33.2,417.3 L33.7,417.0 L34.1,417.6 L34.6,417.7 L35.1,417.6 L35.6,417.8 L36.1,417.7 L36.6,418.1 L37.1,417.7 L37.6,417.7 L38.1,418.5 L38.6,417.9 L39.1,417.9 L39.6,417.8 L40.1,418.2 L40.6,418.3 L41.1,418.3 L41.6,417.9 L42.1,418.3 L42.6,418.3 L43.1,417.9 L43.6,418.4 L44.1,418.4 L44.6,418.2 L45.1,418.2 L45.6,418.0 L46.1,418.5 L46.6,418.7 L47.1,418.4 L47.6,418.2 L48.1,418.7 L48.6,418.5 L49.1,418.4 L49.6,418.4 L50.1,418.5 L50.6,418.6 L51.1,418.7 L51.6,418.8 L52.1,418.3 L52.6,418.8 L53.1,418.4 L53.6,418.9 L54.1,418.1 L54.6,419.0 L55.1,418.4 L55.6,418.9 L56.1,418.8 L56.6,418.8 L57.1,418.9 L57.6,418.4 L58.1,418.8 L58.6,419.1 L59.1,418.7 L59.6,418.7 L60.1,419.1 L60.6,418.8 L61.1,418.9 L61.6,418.8 L62.1,418.8 L62.6,419.0 L63.1,419.0 L63.6,418.8 L64.1,418.9 L64.6,419.3 L65.1,419.1 L65.6,419.1 L66.1,419.1 L66.6,418.7 L67.1,419.1 L67.6,419.0 L68.1,418.8 L68.6,419.0 L69.1,419.1 L69.6,418.9 L70.1,419.1 L70.6,419.1 L71.1,419.1 L71.6,419.1 L72.1,419.3 L72.6,419.4 L73.1,419.2 L73.6,419.0 L74.1,419.3 L74.6,419.1 L75.1,419.2 L75.6,419.3 L76.1,419.7 L76.6,419.3 L77.1,419.3 L77.6,419.6 L78.1,419.2 L78.6,419.3 L79.1,419.3 L79.6,419.4 L80.1,419.3 L80.6,419.4 L81.1,419.2 L81.6,419.4 L82.1,419.6 L82.6,419.4 L83.1,419.4 L83.6,419.4 L84.1,419.6 L84.6,419.2 L85.1,419.5 L85.6,419.2 L86.1,419.5 L86.6,419.4 L87.1,419.4 L87.6,419.4 L88.1,419.0 L88.6,419.5 L89.1,419.1 L89.6,419.3 L90.1,419.5 L90.6,419.2 L91.1,419.3 L91.6,419.3 L92.1,419.6 L92.6,419.3 L93.1,419.4 L93.6,419.4 L94.1,419.4 L94.6,419.3 L95.1,419.1 L95.6,419.2 L96.1,419.5 L96.5,419.0 L97.0,419.0 L97.5,418.9 L98.0,419.1 L98.5,418.6 L99.0,418.4 L99.5,417.8 L100.0,417.0 L100.5,414.8 L101.0,409.8 L101.5,399.4 L102.0,383.5 L102.5,370.5 L103.0,372.0 L103.5,386.4 L104.0,401.4 L104.5,411.2 L105.0,415.6 L105.5,417.3 L106.0,417.8 L106.5,418.4 L107.0,418.5 L107.5,419.0 L108.0,418.8 L108.5,419.1 L109.0,418.9 L109.5,418.9 L110.0,418.7 L110.5,417.4 L111.0,414.0 L111.5,410.7 L112.0,411.8 L112.5,415.4 L113.0,417.9 L113.5,419.4 L114.0,419.3 L114.5,419.6 L115.0,419.6 L115.5,419.7 L116.0,419.5 L116.5,419.7 L117.0,419.7 L117.5,419.8 L118.0,419.6 L118.5,419.8 L119.0,419.8 L119.5,419.7 L120.0,419.9 L120.5,419.7 L121.0,419.9 L121.5,419.8 L122.0,419.8 L122.5,419.8 L123.0,419.8 L123.5,419.9 L124.0,419.7 L124.5,419.8 L125.0,419.8 L125.5,419.8 L126.0,419.9 L126.5,419.8 L127.0,419.8 L127.5,420.0 L128.0,419.6 L128.5,419.9 L129.0,419.9 L129.5,419.8 L130.0,420.1 L130.5,419.9 L131.0,419.8 L131.5,419.9 L132.0,419.8 L132.5,419.9 L133.0,419.9 L133.5,419.8 L134.0,419.8 L134.5,420.0 L135.0,419.8 L135.5,419.8 L136.0,419.9 L136.5,419.9 L137.0,419.8 L137.5,419.7 L138.0,419.7 L138.5,419.9 L139.0,419.9 L139.5,419.9 L140.0,419.8 L140.5,419.9 L141.0,419.8 L141.5,419.7 L142.0,419.8 L142.5,419.8 L143.0,419.8 L143.5,419.9 L144.0,419.8 L144.5,419.8 L145.0,419.8 L145.5,419.4 L146.0,419.3 L146.5,419.1 L147.0,417.8 L147.5,416.7 L148.0,416.8 L148.5,417.9 L149.0,418.8 L149.5,419.2 L150.0,419.2 L150.5,418.7 L151.0,418.4 L151.5,418.5 L152.0,418.6 L152.5,418.6 L153.0,418.2 L153.5,416.5 L154.0,413.8 L154.5,411.2 L155.0,411.3 L155.5,413.0 L156.0,416.0 L156.5,417.3 L157.0,418.0 L157.5,417.4 L158.0,417.1 L158.5,417.4 L158.9,418.1 L159.4,418.8 L159.9,419.2 L160.4,419.7 L160.9,419.7 L161.4,419.8 L161.9,420.0 L162.4,419.8 L162.9,419.8 L163.4,419.9 L163.9,420.0 L164.4,419.9 L164.9,419.9 L165.4,419.8 L165.9,419.8 L166.4,420.0 L166.9,419.6 L167.4,419.5 L167.9,419.2 L168.4,418.8 L168.9,418.4 L169.4,418.5 L169.9,418.9 L170.4,419.4 L170.9,419.7 L171.4,419.7 L171.9,419.9 L172.4,419.9 L172.9,419.9 L173.4,420.0 L173.9,420.2 L174.4,420.0 L174.9,420.0 L175.4,419.8 L175.9,420.2 L176.4,420.0 L176.9,419.7 L177.4,420.2 L177.9,420.0 L178.4,420.0 L178.9,420.1 L179.4,419.9 L179.9,420.0 L180.4,420.3 L180.9,420.0 L181.4,420.1 L181.9,419.8 L182.4,419.9 L182.9,420.1 L183.4,419.9 L183.9,419.7 L184.4,420.1 L184.9,420.1 L185.4,419.9 L185.9,419.9 L186.4,419.9 L186.9,420.1 L187.4,419.9 L187.9,420.1 L188.4,420.0 L188.9,419.8 L189.4,420.0 L189.9,419.8 L190.4,419.9 L190.9,419.8 L191.4,419.8 L191.9,419.7 L192.4,419.7 L192.9,419.8 L193.4,419.5 L193.9,419.6 L194.4,419.4 L194.9,419.1 L195.4,418.6 L195.9,416.9 L196.4,413.9 L196.9,410.2 L197.4,408.2 L197.9,410.0 L198.4,413.5 L198.9,416.6 L199.4,418.3 L199.9,419.2 L200.4,419.6 L200.9,419.6 L201.4,419.7 L201.9,419.9 L202.4,419.8 L202.9,419.8 L203.4,419.8 L203.9,419.7 L204.4,419.8 L204.9,419.8 L205.4,419.7 L205.9,419.9 L206.4,419.9 L206.9,419.7 L207.4,419.8 L207.9,420.1 L208.4,419.9 L208.9,419.7 L209.4,419.9 L209.9,419.8 L210.4,420.1 L210.9,419.9 L211.4,420.1 L211.9,419.8 L212.4,420.0 L212.9,419.7 L213.4,420.0 L213.9,419.9 L214.4,419.8 L214.9,419.9 L215.4,420.0 L215.9,419.7 L216.4,419.9 L216.9,419.5 L217.4,419.8 L217.9,419.6 L218.4,419.6 L218.9,419.2 L219.4,418.8 L219.9,418.0 L220.4,416.5 L220.9,414.9 L221.3,413.2 L221.8,412.4 L222.3,413.9 L222.8,415.7 L223.3,417.4 L223.8,418.2 L224.3,418.3 L224.8,417.9 L225.3,416.8 L225.8,414.8 L226.3,413.3 L226.8,413.3 L227.3,414.3 L227.8,416.0 L228.3,417.6 L228.8,418.6 L229.3,419.1 L229.8,419.5 L230.3,419.6 L230.8,419.4 L231.3,419.2 L231.8,419.3 L232.3,418.8 L232.8,419.1 L233.3,418.7 L233.8,419.1 L234.3,419.6 L234.8,419.7 L235.3,419.8 L235.8,419.7 L236.3,419.8 L236.8,419.9 L237.3,419.9 L237.8,419.9 L238.3,420.1 L238.8,420.0 L239.3,420.0 L239.8,420.0 L240.3,419.9 L240.8,420.0 L241.3,420.2 L241.8,419.8 L242.3,419.9 L242.8,419.9 L243.3,420.0 L243.8,420.0 L244.3,420.0 L244.8,419.8 L245.3,420.1 L245.8,419.8 L246.3,420.0 L246.8,419.9 L247.3,420.0 L247.8,420.1 L248.3,419.8 L248.8,420.0 L249.3,419.9 L249.8,419.8 L250.3,420.1 L250.8,420.0 L251.3,419.9 L251.8,419.8 L252.3,419.8 L252.8,419.8 L253.3,419.9 L253.8,419.6 L254.3,419.7 L254.8,419.7 L255.3,419.5 L255.8,419.2 L256.3,418.4 L256.8,417.4 L257.3,416.2 L257.8,414.9 L258.3,414.5 L258.8,414.9 L259.3,416.2 L259.8,417.3 L260.3,418.3 L260.8,418.9 L261.3,419.4 L261.8,419.6 L262.3,419.9 L262.8,419.7 L263.3,419.7 L263.8,420.0 L264.3,420.1 L264.8,420.0 L265.3,419.9 L265.8,420.0 L266.3,419.9 L266.8,419.8 L267.3,419.8 L267.8,419.8 L268.3,420.1 L268.8,420.2 L269.3,419.9 L269.8,420.0 L270.3,420.0 L270.8,420.1 L271.3,420.0 L271.8,419.9 L272.3,420.1 L272.8,420.1 L273.3,419.8 L273.8,419.9 L274.3,420.2 L274.8,420.2 L275.3,419.9 L275.8,419.8 L276.3,419.7 L276.8,419.9 L277.3,419.9 L277.8,420.0 L278.3,419.9 L278.8,420.0 L279.3,419.8 L279.8,419.8 L280.3,419.7 L280.8,419.7 L281.3,419.7 L281.8,419.2 L282.3,418.5 L282.8,417.8 L283.3,417.2 L283.7,416.5 L284.2,417.1 L284.7,417.8 L285.2,418.7 L285.7,419.3 L286.2,419.4 L286.7,419.7 L287.2,419.3 L287.7,419.2 L288.2,418.6 L288.7,418.2 L289.2,417.3 L289.7,417.0 L290.2,416.8 L290.7,417.6 L291.2,418.2 L291.7,418.9 L292.2,419.3 L292.7,419.6 L293.2,419.6 L293.7,419.7 L294.2,420.0 L294.7,419.7 L295.2,419.9 L295.7,419.8 L296.2,420.0 L296.7,419.8 L297.2,419.9 L297.7,420.0 L298.2,420.0 L298.7,420.0 L299.2,419.9 L299.7,419.9 L300.2,419.9 L300.7,419.8 L301.2,419.8 L301.7,419.9 L302.2,419.8 L302.7,419.9 L303.2,419.8 L303.7,419.9 L304.2,420.1 L304.7,420.0 L305.2,420.0 L305.7,419.9 L306.2,419.8 L306.7,419.6 L307.2,419.3 L307.7,419.0 L308.2,418.3 L308.7,417.3 L309.2,416.6 L309.7,416.2 L310.2,416.7 L310.7,417.1 L311.2,418.2 L311.7,418.9 L312.2,419.0 L312.7,419.1 L313.2,418.8 L313.7,418.8 L314.2,419.2 L314.7,419.3 L315.2,419.4 L315.7,419.8 L316.2,419.9 L316.7,420.0 L317.2,420.0 L317.7,420.1 L318.2,420.0 L318.7,420.1 L319.2,419.9 L319.7,419.8 L320.2,419.9 L320.7,419.9 L321.2,419.8 L321.7,419.9 L322.2,420.0 L322.7,419.9 L323.2,419.9 L323.7,420.0 L324.2,419.9 L324.7,420.1 L325.2,419.9 L325.7,419.9 L326.2,420.0 L326.7,420.0 L327.2,420.0 L327.7,420.1 L328.2,420.1 L328.7,419.9 L329.2,419.9 L329.7,419.9 L330.2,420.0 L330.7,419.9" class="xrd"/>
<text x="23.8" y="410.8" class="lab">VMo/Ti</text>
<path d="M17.7,464.6 L18.2,465.0 L18.7,464.3 L19.2,465.1 L19.7,463.8 L20.2,464.3 L20.7,464.9 L21.2,464.6 L21.7,464.2 L22.2,463.8 L22.7,465.3 L23.2,464.6 L23.7,464.9 L24.2,465.2 L24.7,464.8 L25.2,465.0 L25.7,464.9 L26.2,465.5 L26.7,465.4 L27.2,465.3 L27.7,465.4 L28.2,465.5 L28.7,465.8 L29.2,465.5 L29.7,465.6 L30.2,465.7 L30.7,465.7 L31.2,465.5 L31.7,466.0 L32.2,465.6 L32.7,465.9 L33.2,465.9 L33.7,466.0 L34.1,465.7 L34.6,465.8 L35.1,466.0 L35.6,466.2 L36.1,465.6 L36.6,466.0 L37.1,466.5 L37.6,466.2 L38.1,466.3 L38.6,466.1 L39.1,466.4 L39.6,466.5 L40.1,466.0 L40.6,466.9 L41.1,466.8 L41.6,466.6 L42.1,466.6 L42.6,466.5 L43.1,466.5 L43.6,466.3 L44.1,467.0 L44.6,465.9 L45.1,466.5 L45.6,466.9 L46.1,466.8 L46.6,466.8 L47.1,467.3 L47.6,466.7 L48.1,467.1 L48.6,466.9 L49.1,467.1 L49.6,467.0 L50.1,466.9 L50.6,467.2 L51.1,466.6 L51.6,467.2 L52.1,467.1 L52.6,467.0 L53.1,466.9 L53.6,467.0 L54.1,467.1 L54.6,467.0 L55.1,467.0 L55.6,467.3 L56.1,467.0 L56.6,467.3 L57.1,467.4 L57.6,467.2 L58.1,467.3 L58.6,467.2 L59.1,467.2 L59.6,467.4 L60.1,467.2 L60.6,467.3 L61.1,467.6 L61.6,467.0 L62.1,467.3 L62.6,467.4 L63.1,467.2 L63.6,467.7 L64.1,467.5 L64.6,467.3 L65.1,467.8 L65.6,467.6 L66.1,467.2 L66.6,467.4 L67.1,467.7 L67.6,467.5 L68.1,467.4 L68.6,467.7 L69.1,467.5 L69.6,467.5 L70.1,467.6 L70.6,467.3 L71.1,467.6 L71.6,467.6 L72.1,467.6 L72.6,467.7 L73.1,467.8 L73.6,467.7 L74.1,467.8 L74.6,467.4 L75.1,467.3 L75.6,467.7 L76.1,468.1 L76.6,467.8 L77.1,467.6 L77.6,467.8 L78.1,467.6 L78.6,467.6 L79.1,467.8 L79.6,467.8 L80.1,467.9 L80.6,467.8 L81.1,467.9 L81.6,467.9 L82.1,467.6 L82.6,467.8 L83.1,467.6 L83.6,467.7 L84.1,468.0 L84.6,467.8 L85.1,467.9 L85.6,468.0 L86.1,467.9 L86.6,467.6 L87.1,467.6 L87.6,467.9 L88.1,467.9 L88.6,467.8 L89.1,467.8 L89.6,467.6 L90.1,467.9 L90.6,468.0 L91.1,467.8 L91.6,468.1 L92.1,467.8 L92.6,467.7 L93.1,468.1 L93.6,467.6 L94.1,467.8 L94.6,467.8 L95.1,467.7 L95.6,467.7 L96.1,467.6 L96.5,467.6 L97.0,467.7 L97.5,467.2 L98.0,467.2 L98.5,467.0 L99.0,466.7 L99.5,466.2 L100.0,465.5 L100.5,463.6 L101.0,458.0 L101.5,447.8 L102.0,432.8 L102.5,420.0 L103.0,421.3 L103.5,435.8 L104.0,450.2 L104.5,459.5 L105.0,463.9 L105.5,465.8 L106.0,466.4 L106.5,467.0 L107.0,467.1 L107.5,467.5 L108.0,467.5 L108.5,467.3 L109.0,467.7 L109.5,467.4 L110.0,467.4 L110.5,466.2 L111.0,463.0 L111.5,460.3 L112.0,461.1 L112.5,464.6 L113.0,467.2 L113.5,467.6 L114.0,467.7 L114.5,468.1 L115.0,468.1 L115.5,468.1 L116.0,468.0 L116.5,468.2 L117.0,468.0 L117.5,468.0 L118.0,468.3 L118.5,468.3 L119.0,468.1 L119.5,468.2 L120.0,468.0 L120.5,468.0 L121.0,468.2 L121.5,468.0 L122.0,468.1 L122.5,468.2 L123.0,468.0 L123.5,468.2 L124.0,468.1 L124.5,468.3 L125.0,468.3 L125.5,468.0 L126.0,468.0 L126.5,468.2 L127.0,468.1 L127.5,468.2 L128.0,468.3 L128.5,468.1 L129.0,468.0 L129.5,468.2 L130.0,468.2 L130.5,468.2 L131.0,468.3 L131.5,468.5 L132.0,468.2 L132.5,468.4 L133.0,468.0 L133.5,468.2 L134.0,468.2 L134.5,468.1 L135.0,468.4 L135.5,468.4 L136.0,468.1 L136.5,468.2 L137.0,468.2 L137.5,468.1 L138.0,468.5 L138.5,468.1 L139.0,468.2 L139.5,468.2 L140.0,468.1 L140.5,468.0 L141.0,468.1 L141.5,468.2 L142.0,468.3 L142.5,467.9 L143.0,468.5 L143.5,468.2 L144.0,468.2 L144.5,468.3 L145.0,468.2 L145.5,468.1 L146.0,467.9 L146.5,467.2 L147.0,466.1 L147.5,465.4 L148.0,465.3 L148.5,466.2 L149.0,467.2 L149.5,467.6 L150.0,467.6 L150.5,467.3 L151.0,467.0 L151.5,466.7 L152.0,467.0 L152.5,467.0 L153.0,466.3 L153.5,464.7 L154.0,462.3 L154.5,459.5 L155.0,459.4 L155.5,461.6 L156.0,464.5 L156.5,465.6 L157.0,466.2 L157.5,465.9 L158.0,465.6 L158.5,466.1 L158.9,466.6 L159.4,467.3 L159.9,467.5 L160.4,468.0 L160.9,468.1 L161.4,468.0 L161.9,468.1 L162.4,468.3 L162.9,468.3 L163.4,468.4 L163.9,468.3 L164.4,468.5 L164.9,468.2 L165.4,468.4 L165.9,468.2 L166.4,468.1 L166.9,468.3 L167.4,468.0 L167.9,467.5 L168.4,467.3 L168.9,466.8 L169.4,466.9 L169.9,467.7 L170.4,467.8 L170.9,468.2 L171.4,468.2 L171.9,468.2 L172.4,468.1 L172.9,468.3 L173.4,468.3 L173.9,468.3 L174.4,468.0 L174.9,468.3 L175.4,468.1 L175.9,468.4 L176.4,468.4 L176.9,468.2 L177.4,468.4 L177.9,468.3 L178.4,468.3 L178.9,468.1 L179.4,468.1 L179.9,468.0 L180.4,468.2 L180.9,468.3 L181.4,468.3 L181.9,468.1 L182.4,468.5 L182.9,468.4 L183.4,468.4 L183.9,468.2 L184.4,468.3 L184.9,468.2 L185.4,468.2 L185.9,468.0 L186.4,468.2 L186.9,468.6 L187.4,468.6 L187.9,468.3 L188.4,468.1 L188.9,468.4 L189.4,468.3 L189.9,468.4 L190.4,468.3 L190.9,468.2 L191.4,468.2 L191.9,468.2 L192.4,468.1 L192.9,468.2 L193.4,468.2 L193.9,468.4 L194.4,468.0 L194.9,467.5 L195.4,467.1 L195.9,465.3 L196.4,462.4 L196.9,458.6 L197.4,456.7 L197.9,458.7 L198.4,462.4 L198.9,465.2 L199.4,467.1 L199.9,467.6 L200.4,468.0 L200.9,468.1 L201.4,468.0 L201.9,468.1 L202.4,468.1 L202.9,468.3 L203.4,468.2 L203.9,468.3 L204.4,468.4 L204.9,468.3 L205.4,468.3 L205.9,468.3 L206.4,468.3 L206.9,468.4 L207.4,468.3 L207.9,468.3 L208.4,468.1 L208.9,468.4 L209.4,468.2 L209.9,468.3 L210.4,467.9 L210.9,468.2 L211.4,468.1 L211.9,468.2 L212.4,468.4 L212.9,468.4 L213.4,468.3 L213.9,468.4 L214.4,468.2 L214.9,468.3 L215.4,468.3 L215.9,468.4 L216.4,468.0 L216.9,468.3 L217.4,468.1 L217.9,468.2 L218.4,467.9 L218.9,467.6 L219.4,467.3 L219.9,466.7 L220.4,465.0 L220.9,463.0 L221.3,461.3 L221.8,461.0 L222.3,462.2 L222.8,464.2 L223.3,465.3 L223.8,466.6 L224.3,466.8 L224.8,466.3 L225.3,465.0 L225.8,463.2 L226.3,461.6 L226.8,461.4 L227.3,462.7 L227.8,464.3 L228.3,466.1 L228.8,466.8 L229.3,467.5 L229.8,467.9 L230.3,467.8 L230.8,468.1 L231.3,467.8 L231.8,467.6 L232.3,467.3 L232.8,467.4 L233.3,467.3 L233.8,467.5 L234.3,467.7 L234.8,468.1 L235.3,468.3 L235.8,468.2 L236.3,468.4 L236.8,468.3 L237.3,468.3 L237.8,468.0 L238.3,468.3 L238.8,468.5 L239.3,468.4 L239.8,468.2 L240.3,468.4 L240.8,468.1 L241.3,468.3 L241.8,468.2 L242.3,468.2 L242.8,468.4 L243.3,468.3 L243.8,468.4 L244.3,468.3 L244.8,468.4 L245.3,468.3 L245.8,468.4 L246.3,468.3 L246.8,468.4 L247.3,468.4 L247.8,468.2 L248.3,468.4 L248.8,468.5 L249.3,468.5 L249.8,468.3 L250.3,468.2 L250.8,468.3 L251.3,468.2 L251.8,468.3 L252.3,468.3 L252.8,468.2 L253.3,468.3 L253.8,468.0 L254.3,468.1 L254.8,467.9 L255.3,467.9 L255.8,467.5 L256.3,467.0 L256.8,465.9 L257.3,464.8 L257.8,463.6 L258.3,463.0 L258.8,463.6 L259.3,464.7 L259.8,465.9 L260.3,466.6 L260.8,467.4 L261.3,467.6 L261.8,467.9 L262.3,468.2 L262.8,468.2 L263.3,468.3 L263.8,468.5 L264.3,468.3 L264.8,468.3 L265.3,468.1 L265.8,468.2 L266.3,468.5 L266.8,468.5 L267.3,468.3 L267.8,468.3 L268.3,468.4 L268.8,468.4 L269.3,468.2 L269.8,468.2 L270.3,468.4 L270.8,468.4 L271.3,468.4 L271.8,468.5 L272.3,468.4 L272.8,468.2 L273.3,468.2 L273.8,468.4 L274.3,468.3 L274.8,468.2 L275.3,468.4 L275.8,468.5 L276.3,468.2 L276.8,468.3 L277.3,468.5 L277.8,468.3 L278.3,468.4 L278.8,468.3 L279.3,468.0 L279.8,468.2 L280.3,468.3 L280.8,468.3 L281.3,467.9 L281.8,467.7 L282.3,466.9 L282.8,466.0 L283.3,465.3 L283.7,464.9 L284.2,465.3 L284.7,466.5 L285.2,467.1 L285.7,467.8 L286.2,467.8 L286.7,468.0 L287.2,467.8 L287.7,467.5 L288.2,467.1 L288.7,466.5 L289.2,465.7 L289.7,465.2 L290.2,465.4 L290.7,466.1 L291.2,466.9 L291.7,467.2 L292.2,467.6 L292.7,468.1 L293.2,468.1 L293.7,468.1 L294.2,468.2 L294.7,468.1 L295.2,468.2 L295.7,468.4 L296.2,468.5 L296.7,468.2 L297.2,468.3 L297.7,468.2 L298.2,468.3 L298.7,468.3 L299.2,468.4 L299.7,468.6 L300.2,468.4 L300.7,468.6 L301.2,468.4 L301.7,468.4 L302.2,468.1 L302.7,468.4 L303.2,468.2 L303.7,468.5 L304.2,468.1 L304.7,468.5 L305.2,468.3 L305.7,468.0 L306.2,468.0 L306.7,468.0 L307.2,467.7 L307.7,467.2 L308.2,466.8 L308.7,465.8 L309.2,464.9 L309.7,464.6 L310.2,465.3 L310.7,465.7 L311.2,466.6 L311.7,467.2 L312.2,467.5 L312.7,467.5 L313.2,467.5 L313.7,467.1 L314.2,467.7 L314.7,467.8 L315.2,468.1 L315.7,468.0 L316.2,468.3 L316.7,468.3 L317.2,468.5 L317.7,468.4 L318.2,468.3 L318.7,468.5 L319.2,468.3 L319.7,468.4 L320.2,468.3 L320.7,468.3 L321.2,468.3 L321.7,468.7 L322.2,468.2 L322.7,468.5 L323.2,468.6 L323.7,468.4 L324.2,468.3 L324.7,468.2 L325.2,468.5 L325.7,468.2 L326.2,468.4 L326.7,468.3 L327.2,468.5 L327.7,468.4 L328.2,468.4 L328.7,468.3 L329.2,468.3 L329.7,468.4 L330.2,468.4 L330.7,468.4" class="xrd"/>
<text x="21.5" y="457.2" class="lab">VW/Ti</text>
<text x="103.2" y="15.1" class="mkh" text-anchor="middle">&#9829;</text>
<text x="112.4" y="48.8" class="mkd" text-anchor="middle">&#9830;</text>
<text x="147.2" y="55.9" class="mkd" text-anchor="middle">&#9830;</text>
<text x="155.1" y="48.0" class="mkh" text-anchor="middle">&#9829;</text>
<text x="168.6" y="58.6" class="mkd" text-anchor="middle">&#9830;</text>
<text x="197.1" y="47.5" class="mkh" text-anchor="middle">&#9829;</text>
<text x="220.5" y="53.0" class="mkh" text-anchor="middle">&#9829;</text>
<text x="228.4" y="55.6" class="mkh" text-anchor="middle">&#9829;</text>
<text x="258.0" y="53.0" class="mkh" text-anchor="middle">&#9829;</text>
<text x="283.5" y="55.6" class="mkh" text-anchor="middle">&#9829;</text>
<text x="290.9" y="57.5" class="mkh" text-anchor="middle">&#9829;</text>
<text x="311.6" y="58.5" class="mkh" text-anchor="middle">&#9829;</text>
<text x="230.0" y="15.5" class="mkh" text-anchor="middle">&#9829;</text>
<text x="238.1" y="15.3" class="leg">Anatase</text>
<text x="289.8" y="15.4" class="mkd" text-anchor="middle">&#9830;</text>
<text x="296.9" y="15.3" class="leg">Rutile</text>
<text x="19.3" y="19.7" class="pl">A</text>
<line x1="18.3" y1="476.4" x2="18.3" y2="474.5" class="tk"/>
<line x1="39.1" y1="476.4" x2="39.1" y2="472.59999999999997" class="tk"/>
<text x="39.1" y="491.5" class="tl" text-anchor="middle">10</text>
<line x1="59.9" y1="476.4" x2="59.9" y2="474.5" class="tk"/>
<line x1="80.7" y1="476.4" x2="80.7" y2="472.59999999999997" class="tk"/>
<text x="80.7" y="491.5" class="tl" text-anchor="middle">20</text>
<line x1="101.5" y1="476.4" x2="101.5" y2="474.5" class="tk"/>
<line x1="122.3" y1="476.4" x2="122.3" y2="472.59999999999997" class="tk"/>
<text x="122.3" y="491.5" class="tl" text-anchor="middle">30</text>
<line x1="143.1" y1="476.4" x2="143.1" y2="474.5" class="tk"/>
<line x1="163.9" y1="476.4" x2="163.9" y2="472.59999999999997" class="tk"/>
<text x="163.9" y="491.5" class="tl" text-anchor="middle">40</text>
<line x1="184.7" y1="476.4" x2="184.7" y2="474.5" class="tk"/>
<line x1="205.5" y1="476.4" x2="205.5" y2="472.59999999999997" class="tk"/>
<text x="205.5" y="491.5" class="tl" text-anchor="middle">50</text>
<line x1="226.3" y1="476.4" x2="226.3" y2="474.5" class="tk"/>
<line x1="247.1" y1="476.4" x2="247.1" y2="472.59999999999997" class="tk"/>
<text x="247.1" y="491.5" class="tl" text-anchor="middle">60</text>
<line x1="267.9" y1="476.4" x2="267.9" y2="474.5" class="tk"/>
<line x1="288.7" y1="476.4" x2="288.7" y2="472.59999999999997" class="tk"/>
<text x="288.7" y="491.5" class="tl" text-anchor="middle">70</text>
<line x1="309.5" y1="476.4" x2="309.5" y2="474.5" class="tk"/>
<line x1="330.3" y1="476.4" x2="330.3" y2="472.59999999999997" class="tk"/>
<text x="330.3" y="491.5" class="tl" text-anchor="middle">80</text>
<text x="174" y="505.5" class="xt" text-anchor="middle">2 Theta (degree)</text>
<text transform="translate(11.0,238.5) rotate(-90)" class="yt" text-anchor="middle">Relative Intensity (a.u.)</text>
<line x1="15.2" y1="0" x2="15.2" y2="477.09999999999997" class="fa"/>
<line x1="333.9" y1="0" x2="333.9" y2="477.09999999999997" class="fa"/>
<line x1="14.5" y1="476.4" x2="334.59999999999997" y2="476.4" class="fb"/>
<line x1="14.5" y1="0.4" x2="334.59999999999997" y2="0.4" class="ft"/>
<path d="M372.70,57.40 C378.92,57.43 398.78,57.57 410.00,57.60 C421.22,57.63 432.57,57.62 440.00,57.60 C447.43,57.58 449.60,57.65 454.60,57.50 C459.60,57.35 465.97,57.02 470.00,56.70 C474.03,56.38 475.88,56.03 478.80,55.60 C481.72,55.17 484.58,54.70 487.50,54.10 C490.42,53.50 493.38,52.83 496.30,52.00 C499.22,51.17 502.08,50.10 505.00,49.10 C507.92,48.10 510.88,47.10 513.80,46.00 C516.72,44.90 519.80,43.65 522.50,42.50 C525.20,41.35 527.28,40.40 530.00,39.10 C532.72,37.80 535.88,36.23 538.80,34.70 C541.72,33.17 544.58,31.50 547.50,29.90 C550.42,28.30 554.12,26.20 556.30,25.10 C558.48,24.00 559.15,23.75 560.60,23.30 C562.05,22.85 563.53,22.50 565.00,22.40 C566.47,22.30 567.93,22.45 569.40,22.70 C570.87,22.95 572.33,23.37 573.80,23.90 C575.27,24.43 576.75,25.05 578.20,25.90 C579.65,26.75 580.53,27.53 582.50,29.00 C584.47,30.47 587.80,33.00 590.00,34.70 C592.20,36.40 593.53,37.80 595.70,39.20 C597.87,40.60 600.57,41.98 603.00,43.10 C605.43,44.22 607.87,45.20 610.30,45.90 C612.73,46.60 615.17,47.10 617.60,47.30 C620.03,47.50 622.10,47.40 624.90,47.10 C627.70,46.80 631.67,46.07 634.40,45.50 C637.13,44.93 639.23,44.23 641.30,43.70 C643.37,43.17 645.20,42.55 646.80,42.30 C648.40,42.05 649.07,42.05 650.90,42.20 C652.73,42.35 655.52,42.93 657.80,43.20 C660.08,43.47 661.78,43.45 664.60,43.80 C667.42,44.15 673.02,45.05 674.70,45.30" class="tpr"/>
<text x="377.0" y="51.7" class="labb">VWCe/Ti</text>
<path d="M371.50,127.30 C377.92,127.22 398.58,126.95 410.00,126.80 C421.42,126.65 432.57,126.70 440.00,126.40 C447.43,126.10 449.73,125.85 454.60,125.00 C459.47,124.15 464.97,122.38 469.20,121.30 C473.43,120.22 476.73,119.67 480.00,118.50 C483.27,117.33 485.88,115.75 488.80,114.30 C491.72,112.85 494.58,111.43 497.50,109.80 C500.42,108.17 503.38,106.25 506.30,104.50 C509.22,102.75 512.08,101.22 515.00,99.30 C517.92,97.38 520.88,95.05 523.80,93.00 C526.72,90.95 529.80,88.87 532.50,87.00 C535.20,85.13 537.67,83.80 540.00,81.80 C542.33,79.80 544.68,76.93 546.50,75.00 C548.32,73.07 549.43,71.80 550.90,70.20 C552.37,68.60 553.85,66.93 555.30,65.40 C556.75,63.87 558.15,62.00 559.60,61.00 C561.05,60.00 562.53,59.77 564.00,59.40 C565.47,59.03 566.93,59.03 568.40,58.80 C569.87,58.57 571.33,58.58 572.80,58.00 C574.27,57.42 575.75,56.22 577.20,55.30 C578.65,54.38 580.05,53.45 581.50,52.50 C582.95,51.55 584.43,50.30 585.90,49.60 C587.37,48.90 588.98,48.43 590.30,48.30 C591.62,48.17 592.68,47.97 593.80,48.80 C594.92,49.63 595.88,51.82 597.00,53.30 C598.12,54.78 599.33,56.17 600.50,57.70 C601.67,59.23 603.05,61.03 604.00,62.50 C604.95,63.97 605.62,65.18 606.20,66.50 C606.78,67.82 606.98,68.92 607.50,70.40 C608.02,71.88 608.65,73.30 609.30,75.40 C609.95,77.50 610.47,80.77 611.40,83.00 C612.33,85.23 613.45,87.07 614.90,88.80 C616.35,90.53 618.20,92.12 620.10,93.40 C622.00,94.68 623.82,95.33 626.30,96.50 C628.78,97.67 632.08,99.17 635.00,100.40 C637.92,101.63 640.88,102.88 643.80,103.90 C646.72,104.92 649.80,105.77 652.50,106.50 C655.20,107.23 658.20,107.82 660.00,108.30 C661.80,108.78 660.85,109.08 663.30,109.40 C665.75,109.72 672.80,110.07 674.70,110.20" class="tpr"/>
<text x="377.0" y="122.9" class="labb">VMoCr/Ti</text>
<path d="M376.30,164.60 C381.92,164.62 399.38,164.73 410.00,164.70 C420.62,164.67 433.53,164.45 440.00,164.40 C446.47,164.35 445.88,164.43 448.80,164.40 C451.72,164.37 454.58,164.33 457.50,164.20 C460.42,164.07 463.38,163.90 466.30,163.60 C469.22,163.30 472.08,162.88 475.00,162.40 C477.92,161.92 480.88,161.30 483.80,160.70 C486.72,160.10 489.80,159.40 492.50,158.80 C495.20,158.20 497.28,157.97 500.00,157.10 C502.72,156.23 505.88,154.88 508.80,153.60 C511.72,152.32 514.58,150.93 517.50,149.40 C520.42,147.87 523.38,146.20 526.30,144.40 C529.22,142.60 532.08,140.63 535.00,138.60 C537.92,136.57 542.23,133.40 543.80,132.20 C545.37,131.00 543.57,132.12 544.40,131.40 C545.23,130.68 547.35,129.07 548.80,127.90 C550.25,126.73 551.65,125.57 553.10,124.40 C554.55,123.23 556.03,122.13 557.50,120.90 C558.97,119.67 560.43,118.38 561.90,117.00 C563.37,115.62 564.98,114.13 566.30,112.60 C567.62,111.07 568.63,109.33 569.80,107.80 C570.97,106.27 572.13,104.75 573.30,103.40 C574.47,102.05 575.78,100.40 576.80,99.70 C577.82,99.00 578.23,99.32 579.40,99.20 C580.57,99.08 582.33,99.15 583.80,99.00 C585.27,98.85 586.75,98.57 588.20,98.30 C589.65,98.03 591.05,97.60 592.50,97.40 C593.95,97.20 595.65,97.12 596.90,97.10 C598.15,97.08 598.47,97.05 600.00,97.30 C601.53,97.55 604.20,97.80 606.10,98.60 C608.00,99.40 609.50,100.63 611.40,102.10 C613.30,103.57 615.17,105.35 617.50,107.40 C619.83,109.45 623.73,112.72 625.40,114.40 C627.07,116.08 625.77,115.97 627.50,117.50 C629.23,119.03 632.82,121.67 635.80,123.60 C638.78,125.53 642.20,127.57 645.40,129.10 C648.60,130.63 651.80,131.68 655.00,132.80 C658.20,133.92 661.32,134.80 664.60,135.80 C667.88,136.80 673.02,138.30 674.70,138.80" class="tpr"/>
<text x="377.0" y="158.8" class="labb">VMoCe/Ti</text>
<path d="M372.00,187.00 C378.33,187.05 398.67,187.22 410.00,187.30 C421.33,187.38 433.53,187.55 440.00,187.50 C446.47,187.45 445.88,187.20 448.80,187.00 C451.72,186.80 454.58,186.63 457.50,186.30 C460.42,185.97 463.38,185.53 466.30,185.00 C469.22,184.47 472.08,183.83 475.00,183.10 C477.92,182.37 480.88,181.48 483.80,180.60 C486.72,179.72 489.80,178.62 492.50,177.80 C495.20,176.98 496.57,177.00 500.00,175.70 C503.43,174.40 509.45,171.63 513.10,170.00 C516.75,168.37 518.98,167.17 521.90,165.90 C524.82,164.63 527.68,163.42 530.60,162.40 C533.52,161.38 536.47,160.45 539.40,159.80 C542.33,159.15 546.02,158.72 548.20,158.50 C550.38,158.28 550.53,158.28 552.50,158.50 C554.47,158.72 557.67,159.25 560.00,159.80 C562.33,160.35 564.20,161.05 566.50,161.80 C568.80,162.55 571.37,163.32 573.80,164.30 C576.23,165.28 578.67,166.65 581.10,167.70 C583.53,168.75 585.97,169.83 588.40,170.60 C590.83,171.37 593.27,171.92 595.70,172.30 C598.13,172.68 600.57,172.85 603.00,172.90 C605.43,172.95 607.87,172.72 610.30,172.60 C612.73,172.48 615.65,172.23 617.60,172.20 C619.55,172.17 620.35,172.02 622.00,172.40 C623.65,172.78 625.67,173.80 627.50,174.50 C629.33,175.20 630.70,176.07 633.00,176.60 C635.30,177.13 638.08,177.55 641.30,177.70 C644.52,177.85 648.63,177.72 652.30,177.50 C655.97,177.28 659.57,176.80 663.30,176.40 C667.03,176.00 672.80,175.32 674.70,175.10" class="tpr"/>
<text x="378.2" y="182.8" class="labb">VWCr/Ti</text>
<path d="M371.00,223.20 C377.50,223.23 398.50,223.40 410.00,223.40 C421.50,223.40 433.53,223.33 440.00,223.20 C446.47,223.07 445.88,222.90 448.80,222.60 C451.72,222.30 454.58,221.83 457.50,221.40 C460.42,220.97 463.38,220.58 466.30,220.00 C469.22,219.42 472.08,218.72 475.00,217.90 C477.92,217.08 480.88,216.22 483.80,215.10 C486.72,213.98 489.80,212.63 492.50,211.20 C495.20,209.77 497.28,208.40 500.00,206.50 C502.72,204.60 505.88,202.08 508.80,199.80 C511.72,197.52 514.58,195.28 517.50,192.80 C520.42,190.32 524.12,186.95 526.30,184.90 C528.48,182.85 529.15,181.70 530.60,180.50 C532.05,179.30 533.53,178.40 535.00,177.70 C536.47,177.00 537.93,176.45 539.40,176.30 C540.87,176.15 542.33,176.38 543.80,176.80 C545.27,177.22 546.75,177.97 548.20,178.80 C549.65,179.63 551.05,180.57 552.50,181.80 C553.95,183.03 555.65,184.88 556.90,186.20 C558.15,187.52 558.20,187.40 560.00,189.70 C561.80,192.00 565.70,197.27 567.70,200.00 C569.70,202.73 570.55,204.05 572.00,206.10 C573.45,208.15 574.93,210.62 576.40,212.30 C577.87,213.98 579.33,215.12 580.80,216.20 C582.27,217.28 583.67,218.15 585.20,218.80 C586.73,219.45 586.90,219.75 590.00,220.10 C593.10,220.45 598.80,220.72 603.80,220.90 C608.80,221.08 616.05,221.27 620.00,221.20 C623.95,221.13 623.95,220.77 627.50,220.50 C631.05,220.23 636.72,219.82 641.30,219.60 C645.88,219.38 650.88,219.30 655.00,219.20 C659.12,219.10 662.72,219.17 666.00,219.00 C669.28,218.83 673.25,218.33 674.70,218.20" class="tpr"/>
<text x="378.2" y="219.8" class="labb">VCr/Ti</text>
<path d="M372.00,251.90 C378.33,251.87 398.67,251.78 410.00,251.70 C421.33,251.62 433.53,251.45 440.00,251.40 C446.47,251.35 445.88,251.42 448.80,251.40 C451.72,251.38 454.58,251.43 457.50,251.30 C460.42,251.17 463.38,250.90 466.30,250.60 C469.22,250.30 472.08,249.95 475.00,249.50 C477.92,249.05 480.88,248.60 483.80,247.90 C486.72,247.20 489.75,246.32 492.50,245.30 C495.25,244.28 497.48,243.33 500.30,241.80 C503.12,240.27 506.42,238.07 509.40,236.10 C512.38,234.13 515.72,231.83 518.20,230.00 C520.68,228.17 522.33,226.65 524.30,225.10 C526.27,223.55 528.32,222.12 530.00,220.70 C531.68,219.28 532.93,217.78 534.40,216.60 C535.87,215.42 537.35,214.47 538.80,213.60 C540.25,212.73 541.65,211.77 543.10,211.40 C544.55,211.03 546.03,211.03 547.50,211.40 C548.97,211.77 550.43,212.43 551.90,213.60 C553.37,214.77 554.90,216.57 556.30,218.40 C557.70,220.23 558.95,222.70 560.30,224.60 C561.65,226.50 562.98,228.17 564.40,229.80 C565.82,231.43 567.35,233.03 568.80,234.40 C570.25,235.77 571.65,236.97 573.10,238.00 C574.55,239.03 576.03,239.83 577.50,240.60 C578.97,241.37 580.43,242.02 581.90,242.60 C583.37,243.18 584.12,243.48 586.30,244.10 C588.48,244.72 592.08,245.68 595.00,246.30 C597.92,246.92 600.88,247.48 603.80,247.80 C606.72,248.12 609.80,248.12 612.50,248.20 C615.20,248.28 616.82,248.33 620.00,248.30 C623.18,248.27 628.05,248.27 631.60,248.00 C635.15,247.73 637.40,247.08 641.30,246.70 C645.20,246.32 650.88,245.98 655.00,245.70 C659.12,245.42 662.72,245.23 666.00,245.00 C669.28,244.77 673.25,244.42 674.70,244.30" class="tpr"/>
<text x="377.7" y="248.3" class="labb">VCe/Ti</text>
<path d="M370.30,304.60 C376.92,304.70 398.38,305.12 410.00,305.20 C421.62,305.28 433.75,305.18 440.00,305.10 C446.25,305.02 444.78,304.85 447.50,304.70 C450.22,304.55 453.38,304.43 456.30,304.20 C459.22,303.97 462.08,303.65 465.00,303.30 C467.92,302.95 470.88,302.53 473.80,302.10 C476.72,301.67 479.80,301.15 482.50,300.70 C485.20,300.25 487.80,300.00 490.00,299.40 C492.20,298.80 493.43,297.93 495.70,297.10 C497.97,296.27 500.98,295.38 503.60,294.40 C506.22,293.42 508.78,292.65 511.40,291.20 C514.02,289.75 517.20,287.27 519.30,285.70 C521.40,284.13 522.45,283.37 524.00,281.80 C525.55,280.23 527.05,278.45 528.60,276.30 C530.15,274.15 531.93,271.12 533.30,268.90 C534.67,266.68 535.62,265.27 536.80,263.00 C537.98,260.73 539.22,257.85 540.40,255.30 C541.58,252.75 542.83,250.05 543.90,247.70 C544.97,245.35 545.82,242.97 546.80,241.20 C547.78,239.43 548.72,238.08 549.80,237.10 C550.88,236.12 552.12,235.40 553.30,235.30 C554.48,235.20 555.72,235.62 556.90,236.50 C558.08,237.38 559.23,238.73 560.40,240.60 C561.57,242.47 562.52,244.63 563.90,247.70 C565.28,250.77 567.53,255.53 568.70,259.00 C569.87,262.47 569.80,264.88 570.90,268.50 C572.00,272.12 573.85,277.22 575.30,280.70 C576.75,284.18 577.90,286.85 579.60,289.40 C581.30,291.95 583.30,294.30 585.50,296.00 C587.70,297.70 589.88,298.67 592.80,299.60 C595.72,300.53 599.50,301.13 603.00,301.60 C606.50,302.07 609.72,302.28 613.80,302.40 C617.88,302.52 622.92,302.45 627.50,302.30 C632.08,302.15 636.72,301.72 641.30,301.50 C645.88,301.28 649.43,301.22 655.00,301.00 C660.57,300.78 671.42,300.33 674.70,300.20" class="tpr"/>
<text x="375.8" y="298.8" class="labb">VMn/Ti</text>
<path d="M371.50,351.40 C377.92,351.40 398.58,351.50 410.00,351.40 C421.42,351.30 431.67,351.20 440.00,350.80 C448.33,350.40 455.20,349.67 460.00,349.00 C464.80,348.33 465.88,347.58 468.80,346.80 C471.72,346.02 474.58,345.22 477.50,344.30 C480.42,343.38 483.38,342.42 486.30,341.30 C489.22,340.18 492.08,338.95 495.00,337.60 C497.92,336.25 500.88,334.70 503.80,333.20 C506.72,331.70 509.80,330.12 512.50,328.60 C515.20,327.08 517.28,325.78 520.00,324.10 C522.72,322.42 525.88,320.37 528.80,318.50 C531.72,316.63 534.58,314.80 537.50,312.90 C540.42,311.00 544.12,308.58 546.30,307.10 C548.48,305.62 549.15,304.95 550.60,304.00 C552.05,303.05 553.53,301.87 555.00,301.40 C556.47,300.93 557.93,300.83 559.40,301.20 C560.87,301.57 562.33,302.70 563.80,303.60 C565.27,304.50 566.75,305.65 568.20,306.60 C569.65,307.55 571.05,308.57 572.50,309.30 C573.95,310.03 575.65,310.57 576.90,311.00 C578.15,311.43 579.30,311.73 580.00,311.90 C580.70,312.07 579.22,311.62 581.10,312.00 C582.98,312.38 588.13,313.43 591.30,314.20 C594.47,314.97 597.18,315.67 600.10,316.60 C603.02,317.53 605.88,318.47 608.80,319.80 C611.72,321.13 614.93,323.13 617.60,324.60 C620.27,326.07 622.00,327.32 624.80,328.60 C627.60,329.88 631.20,331.23 634.40,332.30 C637.60,333.37 640.57,334.18 644.00,335.00 C647.43,335.82 651.57,336.65 655.00,337.20 C658.43,337.75 661.32,338.13 664.60,338.30 C667.88,338.47 673.02,338.22 674.70,338.20" class="tpr"/>
<text x="374.6" y="348.6" class="labb">VMo/Ti</text>
<path d="M365.60,433.90 C371.33,433.85 390.10,433.85 400.00,433.60 C409.90,433.35 418.33,432.97 425.00,432.40 C431.67,431.83 435.07,431.40 440.00,430.20 C444.93,429.00 450.67,426.98 454.60,425.20 C458.53,423.42 461.17,421.10 463.60,419.50 C466.03,417.90 467.05,417.42 469.20,415.60 C471.35,413.78 474.10,411.27 476.50,408.60 C478.90,405.93 481.12,402.83 483.60,399.60 C486.08,396.37 488.78,392.77 491.40,389.20 C494.02,385.63 496.67,382.13 499.30,378.20 C501.93,374.27 504.58,369.93 507.20,365.60 C509.82,361.27 512.65,356.10 515.00,352.20 C517.35,348.30 519.20,345.43 521.30,342.20 C523.40,338.97 526.03,335.03 527.60,332.80 C529.17,330.57 529.78,329.73 530.70,328.80 C531.62,327.87 532.28,327.23 533.10,327.20 C533.92,327.17 534.68,327.83 535.60,328.60 C536.52,329.37 537.32,329.83 538.60,331.80 C539.88,333.77 541.73,336.35 543.30,340.40 C544.87,344.45 546.43,351.12 548.00,356.10 C549.57,361.08 551.13,365.85 552.70,370.30 C554.27,374.75 555.83,379.15 557.40,382.80 C558.97,386.45 560.58,389.37 562.10,392.20 C563.62,395.03 564.55,397.17 566.50,399.80 C568.45,402.43 571.37,405.78 573.80,408.00 C576.23,410.22 578.67,411.85 581.10,413.10 C583.53,414.35 584.75,414.60 588.40,415.50 C592.05,416.40 598.13,417.58 603.00,418.50 C607.87,419.42 613.10,420.23 617.60,421.00 C622.10,421.77 626.20,422.55 630.00,423.10 C633.80,423.65 636.73,424.03 640.40,424.30 C644.07,424.57 648.40,424.62 652.00,424.70 C655.60,424.78 658.53,424.73 662.00,424.80 C665.47,424.87 670.63,424.73 672.80,425.10 C674.97,425.47 674.63,426.68 675.00,427.00" class="tpr"/>
<text x="373.4" y="426.9" class="labb">VW/Ti</text>
<path d="M374.40,464.00 C380.33,464.05 399.07,464.27 410.00,464.30 C420.93,464.33 432.57,464.22 440.00,464.20 C447.43,464.18 449.73,464.32 454.60,464.20 C459.47,464.08 465.80,463.75 469.20,463.50 C472.60,463.25 472.57,463.13 475.00,462.70 C477.43,462.27 480.88,461.63 483.80,460.90 C486.72,460.17 489.58,459.40 492.50,458.30 C495.42,457.20 498.38,455.83 501.30,454.30 C504.22,452.77 507.08,451.07 510.00,449.10 C512.92,447.13 515.88,444.98 518.80,442.50 C521.72,440.02 524.80,436.78 527.50,434.20 C530.20,431.62 533.37,428.60 535.00,427.00 C536.63,425.40 535.70,425.68 537.30,424.60 C538.90,423.52 542.42,421.10 544.60,420.50 C546.78,419.90 548.45,420.20 550.40,421.00 C552.35,421.80 554.35,423.23 556.30,425.30 C558.25,427.37 560.15,430.35 562.10,433.40 C564.05,436.45 566.05,440.68 568.00,443.60 C569.95,446.52 571.62,448.95 573.80,450.90 C575.98,452.85 578.18,454.08 581.10,455.30 C584.02,456.52 587.65,457.30 591.30,458.20 C594.95,459.10 598.62,460.10 603.00,460.70 C607.38,461.30 613.10,461.57 617.60,461.80 C622.10,462.03 625.43,462.12 630.00,462.10 C634.57,462.08 639.67,461.92 645.00,461.70 C650.33,461.48 657.00,461.12 662.00,460.80 C667.00,460.48 672.83,459.97 675.00,459.80" class="tpr"/>
<text x="372.2" y="459.0" class="labb">V/Ti</text>
<text x="553.0" y="19.2" class="num">477</text>
<text x="575.3" y="70.8" class="num">529</text>
<text x="574.4" y="119.3" class="num">503</text>
<text x="540.0" y="174.0" class="num">439</text>
<text x="527.8" y="194.8" class="num">427</text>
<text x="531.6" y="232.1" class="num">438</text>
<text x="541.0" y="262.4" class="num">453</text>
<text x="544.6" y="320.8" class="num">460</text>
<text x="518.4" y="361.9" class="num">414</text>
<text x="533.2" y="445.1" class="num">442</text>
<text x="367.3" y="23.3" class="pl">B</text>
<line x1="377.5" y1="475.6" x2="377.5" y2="472.0" class="tk"/>
<text x="377.5" y="491.0" class="tlb" text-anchor="middle">100</text>
<line x1="402.3" y1="475.6" x2="402.3" y2="473.70000000000005" class="tk"/>
<line x1="427.1" y1="475.6" x2="427.1" y2="472.0" class="tk"/>
<text x="427.1" y="491.0" class="tlb" text-anchor="middle">200</text>
<line x1="451.9" y1="475.6" x2="451.9" y2="473.70000000000005" class="tk"/>
<line x1="476.7" y1="475.6" x2="476.7" y2="472.0" class="tk"/>
<text x="476.7" y="491.0" class="tlb" text-anchor="middle">300</text>
<line x1="501.4" y1="475.6" x2="501.4" y2="473.70000000000005" class="tk"/>
<line x1="526.2" y1="475.6" x2="526.2" y2="472.0" class="tk"/>
<text x="526.2" y="491.0" class="tlb" text-anchor="middle">400</text>
<line x1="551.0" y1="475.6" x2="551.0" y2="473.70000000000005" class="tk"/>
<line x1="575.8" y1="475.6" x2="575.8" y2="472.0" class="tk"/>
<text x="575.8" y="491.0" class="tlb" text-anchor="middle">500</text>
<line x1="600.6" y1="475.6" x2="600.6" y2="473.70000000000005" class="tk"/>
<line x1="625.4" y1="475.6" x2="625.4" y2="472.0" class="tk"/>
<text x="625.4" y="491.0" class="tlb" text-anchor="middle">600</text>
<line x1="650.2" y1="475.6" x2="650.2" y2="473.70000000000005" class="tk"/>
<line x1="675.0" y1="475.6" x2="675.0" y2="472.0" class="tk"/>
<text x="675.0" y="491.0" class="tlb" text-anchor="middle">700</text>
<text x="522" y="504.2" class="xt" text-anchor="middle">Temperature (&#176;C)</text>
<text transform="translate(358.0,240.1) rotate(-90)" class="yt" text-anchor="middle">Relative Intensity (a.u.)</text>
<line x1="680.0" y1="4.5" x2="680.0" y2="475.6" class="fbr"/>
<path d="M680.6,4.5 H362.6 V475.6 H680.6" class="fbx"/>
</svg>
</body></html>
